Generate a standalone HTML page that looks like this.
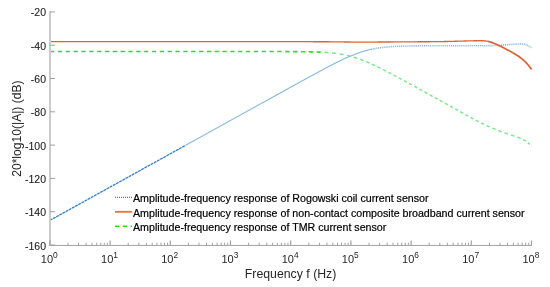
<!DOCTYPE html>
<html><head><meta charset="utf-8"><style>
html,body{margin:0;padding:0;background:#fff;width:550px;height:287px;overflow:hidden}
svg{display:block}
text{stroke-linejoin:round}
</style></head><body>
<svg width="550" height="287" viewBox="0 0 550 287">
<path d="M50.00,51.53L50.05,51.53L50.13,51.53L50.20,51.53L50.28,51.53L50.35,51.53L50.43,51.53L50.50,51.53L50.58,51.53L50.65,51.53L50.73,51.53L50.80,51.53L50.88,51.53L50.95,51.53L51.03,51.53L51.10,51.53L51.18,51.53L51.25,51.53L51.33,51.53L51.40,51.53L51.48,51.53L51.55,51.53L51.63,51.53L51.70,51.53L51.78,51.53L51.85,51.53L51.93,51.53L52.00,51.53L52.08,51.53L52.16,51.53L52.23,51.53L52.31,51.53L52.38,51.53L52.46,51.53L52.53,51.53L52.61,51.53L52.68,51.53L52.76,51.53L52.83,51.53L52.91,51.53L52.98,51.53L53.06,51.53L53.13,51.53L53.21,51.53L53.28,51.53L53.36,51.53L53.43,51.53L53.51,51.53L53.58,51.53L53.66,51.53L53.73,51.53L53.81,51.53L53.88,51.53L53.96,51.53L54.03,51.53L54.11,51.53L54.18,51.53L54.20,51.53M57.84,51.53L57.87,51.53L57.94,51.53L58.02,51.53L58.09,51.53L58.17,51.53L58.24,51.53L58.32,51.53L58.39,51.53L58.47,51.53L58.54,51.53L58.62,51.53L58.69,51.53L58.77,51.53L58.84,51.53L58.92,51.53L59.00,51.53L59.07,51.53L59.15,51.53L59.22,51.53L59.30,51.53L59.37,51.53L59.45,51.53L59.52,51.53L59.60,51.53L59.67,51.53L59.75,51.53L59.82,51.53L59.90,51.53L59.97,51.53L60.05,51.53L60.12,51.53L60.20,51.53L60.27,51.53L60.35,51.53L60.42,51.53L60.50,51.53L60.57,51.53L60.65,51.53L60.72,51.53L60.80,51.53L60.87,51.53L60.95,51.53L61.02,51.53L61.10,51.53L61.18,51.53L61.25,51.53L61.33,51.53L61.40,51.53L61.48,51.53L61.55,51.53L61.63,51.53L61.70,51.53L61.78,51.53L61.85,51.53L61.93,51.53L62.00,51.53L62.04,51.53M65.68,51.53L65.69,51.53L65.76,51.53L65.84,51.53L65.91,51.53L65.99,51.53L66.06,51.53L66.14,51.53L66.21,51.53L66.29,51.53L66.36,51.53L66.44,51.53L66.51,51.53L66.59,51.53L66.66,51.53L66.74,51.53L66.81,51.53L66.89,51.53L66.96,51.53L67.04,51.53L67.11,51.53L67.19,51.53L67.26,51.53L67.34,51.53L67.41,51.53L67.49,51.53L67.56,51.53L67.64,51.53L67.71,51.53L67.79,51.53L67.87,51.53L67.94,51.53L68.02,51.53L68.09,51.53L68.17,51.53L68.24,51.53L68.32,51.53L68.39,51.53L68.47,51.53L68.54,51.53L68.62,51.53L68.69,51.53L68.77,51.53L68.84,51.53L68.92,51.53L68.99,51.53L69.07,51.53L69.14,51.53L69.22,51.53L69.29,51.53L69.37,51.53L69.44,51.53L69.52,51.53L69.59,51.53L69.67,51.53L69.74,51.53L69.82,51.53L69.88,51.53M73.52,51.53L73.58,51.53L73.65,51.53L73.73,51.53L73.80,51.53L73.88,51.53L73.95,51.53L74.03,51.53L74.10,51.53L74.18,51.53L74.25,51.53L74.33,51.53L74.40,51.53L74.48,51.53L74.56,51.53L74.63,51.53L74.71,51.53L74.78,51.53L74.86,51.53L74.93,51.53L75.01,51.53L75.08,51.53L75.16,51.53L75.23,51.53L75.31,51.53L75.38,51.53L75.46,51.53L75.53,51.53L75.61,51.53L75.68,51.53L75.76,51.53L75.83,51.53L75.91,51.53L75.98,51.53L76.06,51.53L76.13,51.53L76.21,51.53L76.28,51.53L76.36,51.53L76.43,51.53L76.51,51.53L76.58,51.53L76.66,51.53L76.73,51.53L76.81,51.53L76.89,51.53L76.96,51.53L77.04,51.53L77.11,51.53L77.19,51.53L77.26,51.53L77.34,51.53L77.41,51.53L77.49,51.53L77.56,51.53L77.64,51.53L77.71,51.53L77.72,51.53M81.36,51.53L81.40,51.53L81.47,51.53L81.55,51.53L81.62,51.53L81.70,51.53L81.77,51.53L81.85,51.53L81.92,51.53L82.00,51.53L82.07,51.53L82.15,51.53L82.22,51.53L82.30,51.53L82.37,51.53L82.45,51.53L82.52,51.53L82.60,51.53L82.67,51.53L82.75,51.53L82.82,51.53L82.90,51.53L82.97,51.53L83.05,51.53L83.12,51.53L83.20,51.53L83.27,51.53L83.35,51.53L83.42,51.53L83.50,51.53L83.58,51.53L83.65,51.53L83.73,51.53L83.80,51.53L83.88,51.53L83.95,51.53L84.03,51.53L84.10,51.53L84.18,51.53L84.25,51.53L84.33,51.53L84.40,51.53L84.48,51.53L84.55,51.53L84.63,51.53L84.70,51.53L84.78,51.53L84.85,51.53L84.93,51.53L85.00,51.53L85.08,51.53L85.15,51.53L85.23,51.53L85.30,51.53L85.38,51.53L85.45,51.53L85.53,51.53L85.56,51.53M89.20,51.53L89.21,51.53L89.29,51.53L89.36,51.53L89.44,51.53L89.51,51.53L89.59,51.53L89.66,51.53L89.74,51.53L89.81,51.53L89.89,51.53L89.96,51.53L90.04,51.53L90.11,51.53L90.19,51.53L90.27,51.53L90.34,51.53L90.42,51.53L90.49,51.53L90.57,51.53L90.64,51.53L90.72,51.53L90.79,51.53L90.87,51.53L90.94,51.53L91.02,51.53L91.09,51.53L91.17,51.53L91.24,51.53L91.32,51.53L91.39,51.53L91.47,51.53L91.54,51.53L91.62,51.53L91.69,51.53L91.77,51.53L91.84,51.53L91.92,51.53L91.99,51.53L92.07,51.53L92.14,51.53L92.22,51.53L92.29,51.53L92.37,51.53L92.44,51.53L92.52,51.53L92.60,51.53L92.67,51.53L92.75,51.53L92.82,51.53L92.90,51.53L92.97,51.53L93.05,51.53L93.12,51.53L93.20,51.53L93.27,51.53L93.35,51.53L93.40,51.53M97.04,51.53L97.11,51.53L97.18,51.53L97.26,51.53L97.33,51.53L97.41,51.53L97.48,51.53L97.56,51.53L97.63,51.53L97.71,51.53L97.78,51.53L97.86,51.53L97.93,51.53L98.01,51.53L98.08,51.53L98.16,51.53L98.23,51.53L98.31,51.53L98.38,51.53L98.46,51.53L98.53,51.53L98.61,51.53L98.68,51.53L98.76,51.53L98.83,51.53L98.91,51.53L98.98,51.53L99.06,51.53L99.13,51.53L99.21,51.53L99.29,51.53L99.36,51.53L99.44,51.53L99.51,51.53L99.59,51.53L99.66,51.53L99.74,51.53L99.81,51.53L99.89,51.53L99.96,51.53L100.04,51.53L100.11,51.53L100.19,51.53L100.26,51.53L100.34,51.53L100.41,51.53L100.49,51.53L100.56,51.53L100.64,51.53L100.71,51.53L100.79,51.53L100.86,51.53L100.94,51.53L101.01,51.53L101.09,51.53L101.16,51.53L101.24,51.53L101.24,51.53M104.88,51.53L104.92,51.53L105.00,51.53L105.07,51.53L105.15,51.53L105.22,51.53L105.30,51.53L105.37,51.53L105.45,51.53L105.52,51.53L105.60,51.53L105.67,51.53L105.75,51.53L105.82,51.53L105.90,51.53L105.98,51.53L106.05,51.53L106.13,51.53L106.20,51.53L106.28,51.53L106.35,51.53L106.43,51.53L106.50,51.53L106.58,51.53L106.65,51.53L106.73,51.53L106.80,51.53L106.88,51.53L106.95,51.53L107.03,51.53L107.10,51.53L107.18,51.53L107.25,51.53L107.33,51.53L107.40,51.53L107.48,51.53L107.55,51.53L107.63,51.53L107.70,51.53L107.78,51.53L107.85,51.53L107.93,51.53L108.00,51.53L108.08,51.53L108.16,51.53L108.23,51.53L108.31,51.53L108.38,51.53L108.46,51.53L108.53,51.53L108.61,51.53L108.68,51.53L108.76,51.53L108.83,51.53L108.91,51.53L108.98,51.53L109.06,51.53L109.08,51.53M112.72,51.53L112.74,51.53L112.82,51.53L112.89,51.53L112.97,51.53L113.04,51.53L113.12,51.53L113.19,51.53L113.27,51.53L113.34,51.53L113.42,51.53L113.49,51.53L113.57,51.53L113.64,51.53L113.72,51.53L113.79,51.53L113.87,51.53L113.94,51.53L114.02,51.53L114.09,51.53L114.17,51.53L114.24,51.53L114.32,51.53L114.39,51.53L114.47,51.53L114.54,51.53L114.62,51.53L114.69,51.53L114.77,51.53L114.84,51.53L114.92,51.53L115.00,51.53L115.07,51.53L115.15,51.53L115.22,51.53L115.30,51.53L115.37,51.53L115.45,51.53L115.52,51.53L115.60,51.53L115.67,51.53L115.75,51.53L115.82,51.53L115.90,51.53L115.97,51.53L116.05,51.53L116.12,51.53L116.20,51.53L116.27,51.53L116.35,51.53L116.42,51.53L116.50,51.53L116.57,51.53L116.65,51.53L116.72,51.53L116.80,51.53L116.87,51.53L116.92,51.53M120.56,51.53L120.63,51.53L120.71,51.53L120.78,51.53L120.86,51.53L120.93,51.53L121.01,51.53L121.08,51.53L121.16,51.53L121.23,51.53L121.31,51.53L121.38,51.53L121.46,51.53L121.53,51.53L121.61,51.53L121.69,51.53L121.76,51.53L121.84,51.53L121.91,51.53L121.99,51.53L122.06,51.53L122.14,51.53L122.21,51.53L122.29,51.53L122.36,51.53L122.44,51.53L122.51,51.53L122.59,51.53L122.66,51.53L122.74,51.53L122.81,51.53L122.89,51.53L122.96,51.53L123.04,51.53L123.11,51.53L123.19,51.53L123.26,51.53L123.34,51.53L123.41,51.53L123.49,51.53L123.56,51.53L123.64,51.53L123.71,51.53L123.79,51.53L123.87,51.53L123.94,51.53L124.02,51.53L124.09,51.53L124.17,51.53L124.24,51.53L124.32,51.53L124.39,51.53L124.47,51.53L124.54,51.53L124.62,51.53L124.69,51.53L124.76,51.53M128.40,51.53L128.45,51.53L128.53,51.53L128.60,51.53L128.68,51.53L128.75,51.53L128.83,51.53L128.90,51.53L128.98,51.53L129.05,51.53L129.13,51.53L129.20,51.53L129.28,51.53L129.35,51.53L129.43,51.53L129.50,51.53L129.58,51.53L129.65,51.53L129.73,51.53L129.80,51.53L129.88,51.53L129.95,51.53L130.03,51.53L130.10,51.53L130.18,51.53L130.25,51.53L130.33,51.53L130.40,51.53L130.48,51.53L130.56,51.53L130.63,51.53L130.71,51.53L130.78,51.53L130.86,51.53L130.93,51.53L131.01,51.53L131.08,51.53L131.16,51.53L131.23,51.53L131.31,51.53L131.38,51.53L131.46,51.53L131.53,51.53L131.61,51.53L131.68,51.53L131.76,51.53L131.83,51.53L131.91,51.53L131.98,51.53L132.06,51.53L132.13,51.53L132.21,51.53L132.28,51.53L132.36,51.53L132.43,51.53L132.51,51.53L132.58,51.53L132.60,51.53M136.24,51.53L136.27,51.53L136.34,51.53L136.42,51.53L136.49,51.53L136.57,51.53L136.64,51.53L136.72,51.53L136.79,51.53L136.87,51.53L136.94,51.53L137.02,51.53L137.09,51.53L137.17,51.53L137.24,51.53L137.32,51.53L137.40,51.53L137.47,51.53L137.55,51.53L137.62,51.53L137.70,51.53L137.77,51.53L137.85,51.53L137.92,51.53L138.00,51.53L138.07,51.53L138.15,51.53L138.22,51.53L138.30,51.53L138.37,51.53L138.45,51.53L138.52,51.53L138.60,51.53L138.67,51.53L138.75,51.53L138.82,51.53L138.90,51.53L138.97,51.53L139.05,51.53L139.12,51.53L139.20,51.53L139.27,51.53L139.35,51.53L139.42,51.53L139.50,51.53L139.58,51.53L139.65,51.53L139.73,51.53L139.80,51.53L139.88,51.53L139.95,51.53L140.03,51.53L140.10,51.53L140.18,51.53L140.25,51.53L140.33,51.53L140.40,51.53L140.44,51.53M144.08,51.53L144.09,51.53L144.16,51.53L144.24,51.53L144.31,51.53L144.39,51.53L144.46,51.53L144.54,51.53L144.61,51.53L144.69,51.53L144.76,51.53L144.84,51.53L144.91,51.53L144.99,51.53L145.06,51.53L145.14,51.53L145.21,51.53L145.29,51.53L145.36,51.53L145.44,51.53L145.51,51.53L145.59,51.53L145.66,51.53L145.74,51.53L145.81,51.53L145.89,51.53L145.96,51.53L146.04,51.53L146.11,51.53L146.19,51.53L146.27,51.53L146.34,51.53L146.42,51.53L146.49,51.53L146.57,51.53L146.64,51.53L146.72,51.53L146.79,51.53L146.87,51.53L146.94,51.53L147.02,51.53L147.09,51.53L147.17,51.53L147.24,51.53L147.32,51.53L147.39,51.53L147.47,51.53L147.54,51.53L147.62,51.53L147.69,51.53L147.77,51.53L147.84,51.53L147.92,51.53L147.99,51.53L148.07,51.53L148.14,51.53L148.22,51.53L148.28,51.53M151.92,51.53L151.98,51.53L152.05,51.53L152.13,51.53L152.20,51.53L152.28,51.53L152.35,51.53L152.43,51.53L152.50,51.53L152.58,51.53L152.65,51.53L152.73,51.53L152.80,51.53L152.88,51.53L152.96,51.53L153.03,51.53L153.11,51.53L153.18,51.53L153.26,51.53L153.33,51.53L153.41,51.53L153.48,51.53L153.56,51.53L153.63,51.53L153.71,51.53L153.78,51.53L153.86,51.53L153.93,51.53L154.01,51.53L154.08,51.53L154.16,51.53L154.23,51.53L154.31,51.53L154.38,51.53L154.46,51.53L154.53,51.53L154.61,51.53L154.68,51.53L154.76,51.53L154.83,51.53L154.91,51.53L154.98,51.53L155.06,51.53L155.13,51.53L155.21,51.53L155.29,51.53L155.36,51.53L155.44,51.53L155.51,51.53L155.59,51.53L155.66,51.53L155.74,51.53L155.81,51.53L155.89,51.53L155.96,51.53L156.04,51.53L156.11,51.53L156.12,51.53M159.76,51.53L159.80,51.53L159.87,51.53L159.95,51.53L160.02,51.53L160.10,51.53L160.17,51.53L160.25,51.53L160.32,51.53L160.40,51.53L160.47,51.53L160.55,51.53L160.62,51.53L160.70,51.53L160.77,51.53L160.85,51.53L160.92,51.53L161.00,51.53L161.07,51.53L161.15,51.53L161.22,51.53L161.30,51.53L161.37,51.53L161.45,51.53L161.52,51.53L161.60,51.53L161.67,51.53L161.75,51.53L161.82,51.53L161.90,51.53L161.98,51.53L162.05,51.53L162.13,51.53L162.20,51.53L162.28,51.53L162.35,51.53L162.43,51.53L162.50,51.53L162.58,51.53L162.65,51.53L162.73,51.53L162.80,51.53L162.88,51.53L162.95,51.53L163.03,51.53L163.10,51.53L163.18,51.53L163.25,51.53L163.33,51.53L163.40,51.53L163.48,51.53L163.55,51.53L163.63,51.53L163.70,51.53L163.78,51.53L163.85,51.53L163.93,51.53L163.96,51.53M167.60,51.53L167.61,51.53L167.69,51.53L167.76,51.53L167.84,51.53L167.91,51.53L167.99,51.53L168.06,51.53L168.14,51.53L168.21,51.53L168.29,51.53L168.36,51.53L168.44,51.53L168.51,51.53L168.59,51.53L168.67,51.53L168.74,51.53L168.82,51.53L168.89,51.53L168.97,51.53L169.04,51.53L169.12,51.53L169.19,51.53L169.27,51.53L169.34,51.53L169.42,51.53L169.49,51.53L169.57,51.53L169.64,51.53L169.72,51.53L169.79,51.53L169.87,51.53L169.94,51.53L170.02,51.53L170.09,51.53L170.17,51.53L170.24,51.53L170.32,51.53L170.39,51.53L170.47,51.53L170.54,51.53L170.62,51.53L170.69,51.53L170.77,51.53L170.84,51.53L170.92,51.53L171.00,51.53L171.07,51.53L171.15,51.53L171.22,51.53L171.30,51.53L171.37,51.53L171.45,51.53L171.52,51.53L171.60,51.53L171.67,51.53L171.75,51.53L171.80,51.53M175.44,51.53L175.51,51.53L175.58,51.53L175.66,51.53L175.73,51.53L175.81,51.53L175.88,51.53L175.96,51.53L176.03,51.53L176.11,51.53L176.18,51.53L176.26,51.53L176.33,51.53L176.41,51.53L176.48,51.53L176.56,51.53L176.63,51.53L176.71,51.53L176.78,51.53L176.86,51.53L176.93,51.53L177.01,51.53L177.08,51.53L177.16,51.53L177.23,51.53L177.31,51.53L177.38,51.53L177.46,51.53L177.53,51.53L177.61,51.53L177.69,51.53L177.76,51.53L177.84,51.53L177.91,51.53L177.99,51.53L178.06,51.53L178.14,51.53L178.21,51.53L178.29,51.53L178.36,51.53L178.44,51.53L178.51,51.53L178.59,51.53L178.66,51.53L178.74,51.53L178.81,51.53L178.89,51.53L178.96,51.53L179.04,51.53L179.11,51.53L179.19,51.53L179.26,51.53L179.34,51.53L179.41,51.53L179.49,51.53L179.56,51.53L179.64,51.53L179.64,51.53M183.28,51.53L183.32,51.53L183.40,51.53L183.47,51.53L183.55,51.53L183.62,51.53L183.70,51.53L183.77,51.53L183.85,51.53L183.92,51.53L184.00,51.53L184.07,51.53L184.15,51.53L184.22,51.53L184.30,51.53L184.38,51.53L184.45,51.53L184.53,51.53L184.60,51.53L184.68,51.53L184.75,51.53L184.83,51.53L184.90,51.53L184.98,51.53L185.05,51.53L185.13,51.53L185.20,51.53L185.28,51.53L185.35,51.53L185.43,51.53L185.50,51.53L185.58,51.53L185.65,51.53L185.73,51.53L185.80,51.53L185.88,51.53L185.95,51.53L186.03,51.53L186.10,51.53L186.18,51.53L186.25,51.53L186.33,51.53L186.40,51.53L186.48,51.53L186.56,51.53L186.63,51.53L186.71,51.53L186.78,51.53L186.86,51.53L186.93,51.53L187.01,51.53L187.08,51.53L187.16,51.53L187.23,51.53L187.31,51.53L187.38,51.53L187.46,51.53L187.48,51.53M191.12,51.53L191.14,51.53L191.22,51.53L191.29,51.53L191.37,51.53L191.44,51.53L191.52,51.53L191.59,51.53L191.67,51.53L191.74,51.53L191.82,51.53L191.89,51.53L191.97,51.53L192.04,51.53L192.12,51.53L192.19,51.53L192.27,51.53L192.34,51.53L192.42,51.53L192.49,51.53L192.57,51.53L192.64,51.53L192.72,51.53L192.79,51.53L192.87,51.53L192.94,51.53L193.02,51.53L193.09,51.53L193.17,51.53L193.24,51.53L193.32,51.53L193.40,51.53L193.47,51.53L193.55,51.53L193.62,51.53L193.70,51.53L193.77,51.53L193.85,51.53L193.92,51.53L194.00,51.53L194.07,51.53L194.15,51.53L194.22,51.53L194.30,51.53L194.37,51.53L194.45,51.53L194.52,51.53L194.60,51.53L194.67,51.53L194.75,51.53L194.82,51.53L194.90,51.53L194.97,51.53L195.05,51.53L195.12,51.53L195.20,51.53L195.27,51.53L195.32,51.53M198.96,51.53L199.03,51.53L199.11,51.53L199.18,51.53L199.26,51.53L199.33,51.53L199.41,51.53L199.48,51.53L199.56,51.53L199.63,51.53L199.71,51.53L199.78,51.53L199.86,51.53L199.93,51.53L200.01,51.53L200.09,51.53L200.16,51.53L200.24,51.53L200.31,51.53L200.39,51.53L200.46,51.53L200.54,51.53L200.61,51.53L200.69,51.53L200.76,51.53L200.84,51.53L200.91,51.53L200.99,51.53L201.06,51.53L201.14,51.53L201.21,51.53L201.29,51.53L201.36,51.53L201.44,51.53L201.51,51.53L201.59,51.53L201.66,51.53L201.74,51.53L201.81,51.53L201.89,51.53L201.96,51.53L202.04,51.53L202.11,51.53L202.19,51.53L202.27,51.53L202.34,51.53L202.42,51.53L202.49,51.53L202.57,51.53L202.64,51.53L202.72,51.53L202.79,51.53L202.87,51.53L202.94,51.53L203.02,51.53L203.09,51.53L203.16,51.53M206.80,51.53L206.85,51.53L206.93,51.53L207.00,51.53L207.08,51.53L207.15,51.53L207.23,51.53L207.30,51.53L207.38,51.53L207.45,51.53L207.53,51.53L207.60,51.53L207.68,51.53L207.75,51.53L207.83,51.53L207.90,51.53L207.98,51.53L208.05,51.53L208.13,51.53L208.20,51.53L208.28,51.53L208.35,51.53L208.43,51.53L208.50,51.53L208.58,51.53L208.65,51.53L208.73,51.53L208.80,51.53L208.88,51.53L208.96,51.53L209.03,51.53L209.11,51.53L209.18,51.53L209.26,51.53L209.33,51.53L209.41,51.53L209.48,51.53L209.56,51.53L209.63,51.53L209.71,51.53L209.78,51.53L209.86,51.53L209.93,51.53L210.01,51.53L210.08,51.53L210.16,51.53L210.23,51.53L210.31,51.53L210.38,51.53L210.46,51.53L210.53,51.53L210.61,51.53L210.68,51.53L210.76,51.53L210.83,51.53L210.91,51.53L210.98,51.53L211.00,51.53M214.64,51.53L214.67,51.53L214.74,51.53L214.82,51.53L214.89,51.53L214.97,51.53L215.04,51.53L215.12,51.53L215.19,51.53L215.27,51.53L215.34,51.53L215.42,51.53L215.49,51.53L215.57,51.53L215.64,51.53L215.72,51.53L215.80,51.53L215.87,51.53L215.95,51.53L216.02,51.53L216.10,51.53L216.17,51.53L216.25,51.53L216.32,51.53L216.40,51.53L216.47,51.53L216.55,51.53L216.62,51.53L216.70,51.53L216.77,51.53L216.85,51.53L216.92,51.53L217.00,51.53L217.07,51.53L217.15,51.53L217.22,51.53L217.30,51.53L217.37,51.53L217.45,51.53L217.52,51.53L217.60,51.53L217.67,51.53L217.75,51.53L217.82,51.53L217.90,51.53L217.98,51.53L218.05,51.53L218.13,51.53L218.20,51.53L218.28,51.53L218.35,51.53L218.43,51.53L218.50,51.53L218.58,51.53L218.65,51.53L218.73,51.53L218.80,51.53L218.84,51.53M222.48,51.53L222.49,51.53L222.56,51.53L222.64,51.53L222.71,51.53L222.79,51.53L222.86,51.53L222.94,51.53L223.01,51.53L223.09,51.53L223.16,51.53L223.24,51.53L223.31,51.53L223.39,51.53L223.46,51.53L223.54,51.53L223.61,51.53L223.69,51.53L223.76,51.53L223.84,51.53L223.91,51.53L223.99,51.53L224.06,51.53L224.14,51.53L224.21,51.53L224.29,51.53L224.36,51.53L224.44,51.53L224.51,51.53L224.59,51.53L224.67,51.53L224.74,51.53L224.82,51.53L224.89,51.53L224.97,51.53L225.04,51.53L225.12,51.53L225.19,51.53L225.27,51.53L225.34,51.53L225.42,51.53L225.49,51.53L225.57,51.53L225.64,51.53L225.72,51.53L225.79,51.53L225.87,51.53L225.94,51.53L226.02,51.53L226.09,51.53L226.17,51.53L226.24,51.53L226.32,51.53L226.39,51.53L226.47,51.53L226.54,51.53L226.62,51.53L226.68,51.53M230.32,51.53L230.38,51.53L230.45,51.53L230.53,51.53L230.60,51.53L230.68,51.53L230.75,51.53L230.83,51.53L230.90,51.53L230.98,51.53L231.05,51.53L231.13,51.53L231.20,51.53L231.28,51.53L231.36,51.53L231.43,51.53L231.51,51.53L231.58,51.53L231.66,51.53L231.73,51.53L231.81,51.53L231.88,51.53L231.96,51.53L232.03,51.53L232.11,51.53L232.18,51.53L232.26,51.53L232.33,51.53L232.41,51.53L232.48,51.53L232.56,51.53L232.63,51.53L232.71,51.53L232.78,51.53L232.86,51.53L232.93,51.53L233.01,51.53L233.08,51.53L233.16,51.53L233.23,51.53L233.31,51.53L233.38,51.53L233.46,51.53L233.53,51.53L233.61,51.53L233.69,51.53L233.76,51.53L233.84,51.53L233.91,51.53L233.99,51.53L234.06,51.53L234.14,51.53L234.21,51.53L234.29,51.53L234.36,51.53L234.44,51.53L234.51,51.53L234.52,51.53M238.16,51.53L238.20,51.53L238.27,51.53L238.35,51.53L238.42,51.53L238.50,51.53L238.57,51.53L238.65,51.53L238.72,51.53L238.80,51.53L238.87,51.53L238.95,51.53L239.02,51.53L239.10,51.53L239.17,51.53L239.25,51.53L239.32,51.53L239.40,51.53L239.47,51.53L239.55,51.53L239.62,51.53L239.70,51.53L239.77,51.53L239.85,51.53L239.92,51.53L240.00,51.53L240.07,51.53L240.15,51.53L240.22,51.53L240.30,51.53L240.38,51.53L240.45,51.53L240.53,51.53L240.60,51.53L240.68,51.53L240.75,51.53L240.83,51.53L240.90,51.53L240.98,51.53L241.05,51.53L241.13,51.53L241.20,51.53L241.28,51.53L241.35,51.53L241.43,51.53L241.50,51.53L241.58,51.53L241.65,51.53L241.73,51.53L241.80,51.53L241.88,51.53L241.95,51.53L242.03,51.53L242.10,51.53L242.18,51.53L242.25,51.53L242.33,51.53L242.36,51.53M246.00,51.53L246.01,51.53L246.09,51.53L246.16,51.53L246.24,51.53L246.31,51.53L246.39,51.53L246.46,51.53L246.54,51.53L246.61,51.53L246.69,51.53L246.76,51.53L246.84,51.53L246.91,51.53L246.99,51.53L247.07,51.53L247.14,51.53L247.22,51.53L247.29,51.53L247.37,51.53L247.44,51.53L247.52,51.53L247.59,51.53L247.67,51.53L247.74,51.53L247.82,51.53L247.89,51.53L247.97,51.53L248.04,51.53L248.12,51.53L248.19,51.53L248.27,51.53L248.34,51.53L248.42,51.53L248.49,51.53L248.57,51.53L248.64,51.53L248.72,51.53L248.79,51.53L248.87,51.53L248.94,51.53L249.02,51.53L249.09,51.53L249.17,51.53L249.24,51.53L249.32,51.53L249.40,51.53L249.47,51.53L249.55,51.53L249.62,51.53L249.70,51.53L249.77,51.53L249.85,51.53L249.92,51.53L250.00,51.53L250.07,51.53L250.15,51.53L250.20,51.53M253.84,51.53L253.91,51.53L253.98,51.53L254.06,51.53L254.13,51.53L254.21,51.53L254.28,51.53L254.36,51.53L254.43,51.53L254.51,51.53L254.58,51.53L254.66,51.53L254.73,51.53L254.81,51.53L254.88,51.53L254.96,51.53L255.03,51.53L255.11,51.53L255.18,51.53L255.26,51.53L255.33,51.53L255.41,51.53L255.48,51.53L255.56,51.53L255.63,51.53L255.71,51.53L255.78,51.53L255.86,51.53L255.93,51.53L256.01,51.53L256.09,51.53L256.16,51.53L256.24,51.53L256.31,51.53L256.39,51.53L256.46,51.53L256.54,51.53L256.61,51.53L256.69,51.53L256.76,51.53L256.84,51.53L256.91,51.53L256.99,51.53L257.06,51.53L257.14,51.53L257.21,51.53L257.29,51.53L257.36,51.53L257.44,51.53L257.51,51.53L257.59,51.53L257.66,51.53L257.74,51.53L257.81,51.53L257.89,51.53L257.96,51.53L258.04,51.53L258.04,51.53M261.68,51.53L261.72,51.53L261.80,51.53L261.87,51.53L261.95,51.53L262.02,51.53L262.10,51.53L262.17,51.53L262.25,51.53L262.32,51.53L262.40,51.53L262.47,51.53L262.55,51.54L262.62,51.54L262.70,51.54L262.78,51.54L262.85,51.54L262.93,51.54L263.00,51.54L263.08,51.54L263.15,51.54L263.23,51.54L263.30,51.54L263.38,51.54L263.45,51.54L263.53,51.54L263.60,51.54L263.68,51.54L263.75,51.54L263.83,51.54L263.90,51.54L263.98,51.54L264.05,51.54L264.13,51.54L264.20,51.54L264.28,51.54L264.35,51.54L264.43,51.54L264.50,51.54L264.58,51.54L264.65,51.54L264.73,51.54L264.80,51.54L264.88,51.54L264.96,51.54L265.03,51.54L265.11,51.54L265.18,51.54L265.26,51.54L265.33,51.54L265.41,51.54L265.48,51.54L265.56,51.54L265.63,51.54L265.71,51.54L265.78,51.54L265.86,51.54L265.88,51.54M269.52,51.54L269.54,51.54L269.62,51.54L269.69,51.54L269.77,51.54L269.84,51.54L269.92,51.54L269.99,51.54L270.07,51.54L270.14,51.54L270.22,51.54L270.29,51.54L270.37,51.54L270.44,51.54L270.52,51.54L270.59,51.54L270.67,51.54L270.74,51.54L270.82,51.54L270.89,51.54L270.97,51.54L271.04,51.54L271.12,51.54L271.19,51.54L271.27,51.54L271.34,51.54L271.42,51.54L271.49,51.54L271.57,51.54L271.64,51.54L271.72,51.54L271.80,51.54L271.87,51.54L271.95,51.54L272.02,51.54L272.10,51.54L272.17,51.54L272.25,51.54L272.32,51.54L272.40,51.54L272.47,51.54L272.55,51.54L272.62,51.54L272.70,51.54L272.77,51.54L272.85,51.54L272.92,51.54L273.00,51.54L273.07,51.54L273.15,51.55L273.22,51.55L273.30,51.55L273.37,51.55L273.45,51.55L273.52,51.55L273.60,51.55L273.67,51.55L273.72,51.55M277.36,51.55L277.43,51.55L277.51,51.55L277.58,51.55L277.66,51.55L277.73,51.55L277.81,51.55L277.88,51.55L277.96,51.55L278.03,51.55L278.11,51.55L278.18,51.55L278.26,51.55L278.33,51.55L278.41,51.55L278.49,51.55L278.56,51.55L278.64,51.55L278.71,51.55L278.79,51.55L278.86,51.55L278.94,51.56L279.01,51.56L279.09,51.56L279.16,51.56L279.24,51.56L279.31,51.56L279.39,51.56L279.46,51.56L279.54,51.56L279.61,51.56L279.69,51.56L279.76,51.56L279.84,51.56L279.91,51.56L279.99,51.56L280.06,51.56L280.14,51.56L280.21,51.56L280.29,51.56L280.36,51.56L280.44,51.56L280.51,51.56L280.59,51.56L280.67,51.56L280.74,51.56L280.82,51.56L280.89,51.56L280.97,51.56L281.04,51.56L281.12,51.56L281.19,51.56L281.27,51.56L281.34,51.56L281.42,51.56L281.49,51.56L281.56,51.56M285.20,51.57L285.25,51.57L285.33,51.57L285.40,51.57L285.48,51.57L285.55,51.57L285.63,51.57L285.70,51.57L285.78,51.57L285.85,51.57L285.93,51.57L286.00,51.58L286.08,51.58L286.15,51.58L286.23,51.58L286.30,51.58L286.38,51.58L286.45,51.58L286.53,51.58L286.60,51.58L286.68,51.58L286.75,51.58L286.83,51.58L286.90,51.58L286.98,51.58L287.05,51.58L287.13,51.58L287.20,51.58L287.28,51.58L287.36,51.58L287.43,51.58L287.51,51.58L287.58,51.58L287.66,51.58L287.73,51.58L287.81,51.58L287.88,51.58L287.96,51.58L288.03,51.58L288.11,51.58L288.18,51.58L288.26,51.58L288.33,51.58L288.41,51.58L288.48,51.59L288.56,51.59L288.63,51.59L288.71,51.59L288.78,51.59L288.86,51.59L288.93,51.59L289.01,51.59L289.08,51.59L289.16,51.59L289.23,51.59L289.31,51.59L289.38,51.59L289.40,51.59M293.04,51.61L293.07,51.61L293.14,51.61L293.22,51.61L293.29,51.61L293.37,51.61L293.44,51.61L293.52,51.61L293.59,51.61L293.67,51.61L293.74,51.61L293.82,51.61L293.89,51.61L293.97,51.62L294.04,51.62L294.12,51.62L294.20,51.62L294.27,51.62L294.35,51.62L294.42,51.62L294.50,51.62L294.57,51.62L294.65,51.62L294.72,51.62L294.80,51.62L294.87,51.62L294.95,51.62L295.02,51.62L295.10,51.62L295.17,51.62L295.25,51.62L295.32,51.62L295.40,51.63L295.47,51.63L295.55,51.63L295.62,51.63L295.70,51.63L295.77,51.63L295.85,51.63L295.92,51.63L296.00,51.63L296.07,51.63L296.15,51.63L296.22,51.63L296.30,51.63L296.38,51.63L296.45,51.63L296.53,51.63L296.60,51.63L296.68,51.64L296.75,51.64L296.83,51.64L296.90,51.64L296.98,51.64L297.05,51.64L297.13,51.64L297.20,51.64L297.24,51.64M300.88,51.68L300.89,51.68L300.96,51.68L301.04,51.68L301.11,51.68L301.19,51.68L301.26,51.68L301.34,51.68L301.41,51.68L301.49,51.68L301.56,51.68L301.64,51.68L301.71,51.69L301.79,51.69L301.86,51.69L301.94,51.69L302.01,51.69L302.09,51.69L302.16,51.69L302.24,51.69L302.31,51.69L302.39,51.69L302.46,51.69L302.54,51.70L302.61,51.70L302.69,51.70L302.76,51.70L302.84,51.70L302.91,51.70L302.99,51.70L303.07,51.70L303.14,51.70L303.22,51.70L303.29,51.71L303.37,51.71L303.44,51.71L303.52,51.71L303.59,51.71L303.67,51.71L303.74,51.71L303.82,51.71L303.89,51.71L303.97,51.72L304.04,51.72L304.12,51.72L304.19,51.72L304.27,51.72L304.34,51.72L304.42,51.72L304.49,51.72L304.57,51.72L304.64,51.72L304.72,51.73L304.79,51.73L304.87,51.73L304.94,51.73L305.02,51.73L305.08,51.73M308.71,51.80L308.78,51.80L308.85,51.80L308.93,51.80L309.00,51.80L309.08,51.80L309.15,51.80L309.23,51.81L309.30,51.81L309.38,51.81L309.45,51.81L309.53,51.81L309.60,51.81L309.68,51.82L309.76,51.82L309.83,51.82L309.91,51.82L309.98,51.82L310.06,51.82L310.13,51.83L310.21,51.83L310.28,51.83L310.36,51.83L310.43,51.83L310.51,51.83L310.58,51.84L310.66,51.84L310.73,51.84L310.81,51.84L310.88,51.84L310.96,51.85L311.03,51.85L311.11,51.85L311.18,51.85L311.26,51.85L311.33,51.85L311.41,51.86L311.48,51.86L311.56,51.86L311.63,51.86L311.71,51.86L311.78,51.87L311.86,51.87L311.93,51.87L312.01,51.87L312.09,51.87L312.16,51.88L312.24,51.88L312.31,51.88L312.39,51.88L312.46,51.88L312.54,51.89L312.61,51.89L312.69,51.89L312.76,51.89L312.84,51.89L312.91,51.90M316.54,52.01L316.60,52.01L316.67,52.01L316.75,52.02L316.82,52.02L316.90,52.02L316.97,52.02L317.05,52.03L317.12,52.03L317.20,52.03L317.27,52.04L317.35,52.04L317.42,52.04L317.50,52.04L317.57,52.05L317.65,52.05L317.72,52.05L317.80,52.06L317.87,52.06L317.95,52.06L318.02,52.07L318.10,52.07L318.17,52.07L318.25,52.07L318.32,52.08L318.40,52.08L318.47,52.08L318.55,52.09L318.62,52.09L318.70,52.09L318.78,52.10L318.85,52.10L318.93,52.10L319.00,52.11L319.08,52.11L319.15,52.11L319.23,52.11L319.30,52.12L319.38,52.12L319.45,52.12L319.53,52.13L319.60,52.13L319.68,52.13L319.75,52.14L319.83,52.14L319.90,52.14L319.98,52.15L320.05,52.15L320.13,52.15L320.20,52.16L320.28,52.16L320.35,52.17L320.43,52.17L320.50,52.17L320.58,52.18L320.65,52.18L320.72,52.18" fill="none" stroke="#11f011" stroke-width="1.6"/>
<path d="M324.34,52.38L324.41,52.38L324.49,52.39L324.56,52.39L324.64,52.40L324.71,52.40L324.79,52.41L324.86,52.41L324.94,52.42L325.01,52.42L325.09,52.43L325.16,52.43L325.24,52.44L325.31,52.44L325.39,52.45L325.47,52.45L325.54,52.46L325.62,52.46L325.69,52.47L325.77,52.47L325.84,52.48L325.92,52.48L325.99,52.49L326.07,52.49L326.14,52.50L326.22,52.50L326.29,52.51L326.37,52.51L326.44,52.52L326.52,52.52L326.59,52.53L326.67,52.54L326.74,52.54L326.82,52.55L326.89,52.55L326.97,52.56L327.04,52.56L327.12,52.57L327.19,52.57L327.27,52.58L327.34,52.59L327.42,52.59L327.49,52.60L327.57,52.60L327.64,52.61L327.72,52.61L327.80,52.62L327.87,52.63L327.95,52.63L328.02,52.64L328.10,52.64L328.17,52.65L328.25,52.66L328.32,52.66L328.40,52.67L328.47,52.67L328.49,52.68M332.07,53.00L332.08,53.00L332.16,53.01L332.23,53.02L332.31,53.03L332.38,53.03L332.46,53.04L332.53,53.05L332.61,53.06L332.68,53.07L332.76,53.07L332.83,53.08L332.91,53.09L332.98,53.10L333.06,53.11L333.13,53.11L333.21,53.12L333.28,53.13L333.36,53.14L333.43,53.15L333.51,53.15L333.58,53.16L333.66,53.17L333.73,53.18L333.81,53.19L333.88,53.20L333.96,53.21L334.03,53.21L334.11,53.22L334.18,53.23L334.26,53.24L334.33,53.25L334.41,53.26L334.49,53.27L334.56,53.28L334.64,53.28L334.71,53.29L334.79,53.30L334.86,53.31L334.94,53.32L335.01,53.33L335.09,53.34L335.16,53.35L335.24,53.36L335.31,53.37L335.39,53.38L335.46,53.39L335.54,53.40L335.61,53.41L335.69,53.41L335.76,53.42L335.84,53.43L335.91,53.44L335.99,53.45L336.06,53.46L336.14,53.47L336.15,53.47M339.63,53.98L339.67,53.98L339.75,54.00L339.82,54.01L339.90,54.02L339.97,54.03L340.05,54.04L340.12,54.06L340.20,54.07L340.27,54.08L340.35,54.09L340.42,54.11L340.50,54.12L340.57,54.13L340.65,54.14L340.72,54.16L340.80,54.17L340.87,54.18L340.95,54.19L341.02,54.21L341.10,54.22L341.18,54.23L341.25,54.25L341.33,54.26L341.40,54.27L341.48,54.29L341.55,54.30L341.63,54.31L341.70,54.33L341.78,54.34L341.85,54.35L341.93,54.37L342.00,54.38L342.08,54.39L342.15,54.41L342.23,54.42L342.30,54.43L342.38,54.45L342.45,54.46L342.53,54.48L342.60,54.49L342.68,54.50L342.75,54.52L342.83,54.53L342.90,54.55L342.98,54.56L343.05,54.57L343.13,54.59L343.20,54.60L343.28,54.62L343.36,54.63L343.43,54.65L343.51,54.66L343.57,54.67M346.90,55.38L346.96,55.39L347.04,55.41L347.11,55.43L347.19,55.44L347.26,55.46L347.34,55.48L347.41,55.50L347.49,55.51L347.56,55.53L347.64,55.55L347.71,55.57L347.79,55.59L347.87,55.60L347.94,55.62L348.02,55.64L348.09,55.66L348.17,55.68L348.24,55.69L348.32,55.71L348.39,55.73L348.47,55.75L348.54,55.77L348.62,55.79L348.69,55.80L348.77,55.82L348.84,55.84L348.92,55.86L348.99,55.88L349.07,55.90L349.14,55.92L349.22,55.94L349.29,55.95L349.37,55.97L349.44,55.99L349.52,56.01L349.59,56.03L349.67,56.05L349.74,56.07L349.82,56.09L349.89,56.11L349.97,56.13L350.04,56.15L350.12,56.17L350.20,56.19L350.27,56.21L350.35,56.23L350.42,56.25L350.50,56.27L350.57,56.29L350.62,56.30M353.75,57.19L353.80,57.20L353.88,57.23L353.95,57.25L354.03,57.27L354.10,57.29L354.18,57.32L354.25,57.34L354.33,57.36L354.40,57.39L354.48,57.41L354.56,57.43L354.63,57.46L354.71,57.48L354.78,57.50L354.86,57.53L354.93,57.55L355.01,57.57L355.08,57.60L355.16,57.62L355.23,57.64L355.31,57.67L355.38,57.69L355.46,57.72L355.53,57.74L355.61,57.76L355.68,57.79L355.76,57.81L355.83,57.84L355.91,57.86L355.98,57.88L356.06,57.91L356.13,57.93L356.21,57.96L356.28,57.98L356.36,58.01L356.43,58.03L356.51,58.06L356.58,58.08L356.66,58.11L356.73,58.13L356.81,58.16L356.89,58.18L356.96,58.21L357.04,58.23L357.11,58.26L357.19,58.28L357.24,58.30M360.17,59.33L360.19,59.34L360.27,59.36L360.34,59.39L360.42,59.42L360.49,59.45L360.57,59.47L360.64,59.50L360.72,59.53L360.79,59.56L360.87,59.58L360.94,59.61L361.02,59.64L361.09,59.67L361.17,59.70L361.24,59.72L361.32,59.75L361.40,59.78L361.47,59.81L361.55,59.84L361.62,59.87L361.70,59.89L361.77,59.92L361.85,59.95L361.92,59.98L362.00,60.01L362.07,60.04L362.15,60.07L362.22,60.10L362.30,60.12L362.37,60.15L362.45,60.18L362.52,60.21L362.60,60.24L362.67,60.27L362.75,60.30L362.82,60.33L362.90,60.36L362.97,60.39L363.05,60.42L363.12,60.45L363.20,60.48L363.27,60.51L363.35,60.53L363.42,60.56L363.45,60.57M366.22,61.70L366.28,61.73L366.36,61.76L366.43,61.79L366.51,61.82L366.58,61.85L366.66,61.88L366.73,61.92L366.81,61.95L366.88,61.98L366.96,62.01L367.03,62.04L367.11,62.07L367.18,62.11L367.26,62.14L367.33,62.17L367.41,62.20L367.48,62.23L367.56,62.27L367.63,62.30L367.71,62.33L367.78,62.36L367.86,62.40L367.93,62.43L368.01,62.46L368.09,62.49L368.16,62.52L368.24,62.56L368.31,62.59L368.39,62.62L368.46,62.66L368.54,62.69L368.61,62.72L368.69,62.75L368.76,62.79L368.84,62.82L368.91,62.85L368.99,62.88L369.06,62.92L369.14,62.95L369.21,62.98L369.29,63.02L369.34,63.04M371.99,64.23L371.99,64.23L372.07,64.27L372.14,64.30L372.22,64.34L372.29,64.37L372.37,64.40L372.44,64.44L372.52,64.47L372.60,64.51L372.67,64.54L372.75,64.58L372.82,64.61L372.90,64.65L372.97,64.68L373.05,64.72L373.12,64.75L373.20,64.79L373.27,64.82L373.35,64.86L373.42,64.89L373.50,64.93L373.57,64.96L373.65,65.00L373.72,65.03L373.80,65.07L373.87,65.10L373.95,65.14L374.02,65.17L374.10,65.21L374.17,65.24L374.25,65.28L374.32,65.31L374.40,65.35L374.47,65.39L374.55,65.42L374.62,65.46L374.70,65.49L374.78,65.53L374.85,65.56L374.93,65.60L374.99,65.63M377.55,66.86L377.56,66.86L377.63,66.90L377.71,66.94L377.78,66.97L377.86,67.01L377.93,67.05L378.01,67.08L378.08,67.12L378.16,67.16L378.23,67.19L378.31,67.23L378.38,67.27L378.46,67.30L378.53,67.34L378.61,67.38L378.68,67.41L378.76,67.45L378.83,67.49L378.91,67.53L378.98,67.56L379.06,67.60L379.13,67.64L379.21,67.67L379.29,67.71L379.36,67.75L379.44,67.79L379.51,67.82L379.59,67.86L379.66,67.90L379.74,67.93L379.81,67.97L379.89,68.01L379.96,68.05L380.04,68.08L380.11,68.12L380.19,68.16L380.26,68.20L380.34,68.23L380.41,68.27L380.47,68.30M382.97,69.56L382.97,69.56L383.04,69.59L383.12,69.63L383.19,69.67L383.27,69.71L383.34,69.75L383.42,69.79L383.49,69.82L383.57,69.86L383.64,69.90L383.72,69.94L383.80,69.98L383.87,70.02L383.95,70.05L384.02,70.09L384.10,70.13L384.17,70.17L384.25,70.21L384.32,70.25L384.40,70.28L384.47,70.32L384.55,70.36L384.62,70.40L384.70,70.44L384.77,70.48L384.85,70.52L384.92,70.55L385.00,70.59L385.07,70.63L385.15,70.67L385.22,70.71L385.30,70.75L385.37,70.79L385.45,70.82L385.52,70.86L385.60,70.90L385.67,70.94L385.75,70.98L385.82,71.02L385.83,71.02M388.29,72.30L388.31,72.31L388.38,72.34L388.46,72.38L388.53,72.42L388.61,72.46L388.68,72.50L388.76,72.54L388.83,72.58L388.91,72.62L388.98,72.66L389.06,72.70L389.13,72.74L389.21,72.78L389.28,72.82L389.36,72.86L389.43,72.90L389.51,72.93L389.58,72.97L389.66,73.01L389.73,73.05L389.81,73.09L389.88,73.13L389.96,73.17L390.03,73.21L390.11,73.25L390.18,73.29L390.26,73.33L390.33,73.37L390.41,73.41L390.49,73.45L390.56,73.49L390.64,73.53L390.71,73.57L390.79,73.61L390.86,73.65L390.94,73.69L391.01,73.73L391.09,73.77L391.11,73.78M393.55,75.07L393.57,75.08L393.64,75.12L393.72,75.16L393.79,75.20L393.87,75.24L393.94,75.28L394.02,75.32L394.09,75.36L394.17,75.40L394.24,75.44L394.32,75.48L394.39,75.52L394.47,75.56L394.54,75.60L394.62,75.64L394.69,75.68L394.77,75.72L394.84,75.76L394.92,75.80L395.00,75.84L395.07,75.88L395.15,75.92L395.22,75.96L395.30,76.00L395.37,76.04L395.45,76.08L395.52,76.12L395.60,76.16L395.67,76.20L395.75,76.24L395.82,76.28L395.90,76.32L395.97,76.36L396.05,76.40L396.12,76.44L396.20,76.48L396.27,76.52L396.34,76.56M398.76,77.86L398.83,77.90L398.90,77.94L398.98,77.98L399.05,78.02L399.13,78.06L399.20,78.10L399.28,78.14L399.36,78.18L399.43,78.22L399.51,78.26L399.58,78.30L399.66,78.34L399.73,78.38L399.81,78.42L399.88,78.46L399.96,78.51L400.03,78.55L400.11,78.59L400.18,78.63L400.26,78.67L400.33,78.71L400.41,78.75L400.48,78.79L400.56,78.83L400.63,78.87L400.71,78.91L400.78,78.95L400.86,78.99L400.93,79.03L401.01,79.07L401.08,79.11L401.16,79.16L401.23,79.20L401.31,79.24L401.38,79.28L401.46,79.32L401.53,79.36M403.94,80.66L403.94,80.66L404.02,80.70L404.09,80.75L404.17,80.79L404.24,80.83L404.32,80.87L404.39,80.91L404.47,80.95L404.54,80.99L404.62,81.03L404.69,81.07L404.77,81.11L404.84,81.15L404.92,81.19L404.99,81.24L405.07,81.28L405.14,81.32L405.22,81.36L405.29,81.40L405.37,81.44L405.44,81.48L405.52,81.52L405.59,81.56L405.67,81.60L405.74,81.64L405.82,81.69L405.89,81.73L405.97,81.77L406.04,81.81L406.12,81.85L406.20,81.89L406.27,81.93L406.35,81.97L406.42,82.01L406.50,82.05L406.57,82.10L406.65,82.14L406.70,82.17M409.09,83.47L409.13,83.49L409.20,83.53L409.28,83.57L409.35,83.61L409.43,83.65L409.50,83.70L409.58,83.74L409.65,83.78L409.73,83.82L409.80,83.86L409.88,83.90L409.95,83.94L410.03,83.98L410.10,84.02L410.18,84.07L410.25,84.11L410.33,84.15L410.40,84.19L410.48,84.23L410.56,84.27L410.63,84.31L410.71,84.35L410.78,84.39L410.86,84.44L410.93,84.48L411.01,84.52L411.08,84.56L411.16,84.60L411.23,84.64L411.31,84.68L411.38,84.72L411.46,84.76L411.53,84.81L411.61,84.85L411.68,84.89L411.76,84.93L411.83,84.97L411.85,84.98M414.24,86.29L414.24,86.29L414.31,86.33L414.39,86.37L414.46,86.41L414.54,86.45L414.61,86.50L414.69,86.54L414.76,86.58L414.84,86.62L414.91,86.66L414.99,86.70L415.07,86.74L415.14,86.78L415.22,86.83L415.29,86.87L415.37,86.91L415.44,86.95L415.52,86.99L415.59,87.03L415.67,87.07L415.74,87.11L415.82,87.16L415.89,87.20L415.97,87.24L416.04,87.28L416.12,87.32L416.19,87.36L416.27,87.40L416.34,87.44L416.42,87.49L416.49,87.53L416.57,87.57L416.64,87.61L416.72,87.65L416.79,87.69L416.87,87.73L416.94,87.78L416.99,87.80M419.37,89.11L419.42,89.14L419.50,89.18L419.58,89.22L419.65,89.26L419.73,89.30L419.80,89.35L419.88,89.39L419.95,89.43L420.03,89.47L420.10,89.51L420.18,89.55L420.25,89.59L420.33,89.64L420.40,89.68L420.48,89.72L420.55,89.76L420.63,89.80L420.70,89.84L420.78,89.88L420.85,89.92L420.93,89.97L421.00,90.01L421.08,90.05L421.15,90.09L421.23,90.13L421.30,90.17L421.38,90.21L421.45,90.26L421.53,90.30L421.60,90.34L421.68,90.38L421.76,90.42L421.83,90.46L421.91,90.50L421.98,90.55L422.06,90.59L422.12,90.62M424.50,91.93L424.54,91.95L424.61,91.99L424.69,92.04L424.76,92.08L424.84,92.12L424.91,92.16L424.99,92.20L425.06,92.24L425.14,92.28L425.21,92.33L425.29,92.37L425.36,92.41L425.44,92.45L425.51,92.49L425.59,92.53L425.66,92.57L425.74,92.62L425.81,92.66L425.89,92.70L425.96,92.74L426.04,92.78L426.11,92.82L426.19,92.86L426.27,92.91L426.34,92.95L426.42,92.99L426.49,93.03L426.57,93.07L426.64,93.11L426.72,93.16L426.79,93.20L426.87,93.24L426.94,93.28L427.02,93.32L427.09,93.36L427.17,93.40L427.24,93.45L427.25,93.45M429.63,94.76L429.65,94.77L429.72,94.81L429.80,94.85L429.87,94.90L429.95,94.94L430.02,94.98L430.10,95.02L430.17,95.06L430.25,95.10L430.32,95.15L430.40,95.19L430.47,95.23L430.55,95.27L430.62,95.31L430.70,95.35L430.78,95.39L430.85,95.44L430.93,95.48L431.00,95.52L431.08,95.56L431.15,95.60L431.23,95.64L431.30,95.68L431.38,95.73L431.45,95.77L431.53,95.81L431.60,95.85L431.68,95.89L431.75,95.93L431.83,95.98L431.90,96.02L431.98,96.06L432.05,96.10L432.13,96.14L432.20,96.18L432.28,96.22L432.35,96.27L432.37,96.27M434.75,97.59L434.76,97.59L434.83,97.64L434.91,97.68L434.98,97.72L435.06,97.76L435.13,97.80L435.21,97.84L435.29,97.88L435.36,97.93L435.44,97.97L435.51,98.01L435.59,98.05L435.66,98.09L435.74,98.13L435.81,98.17L435.89,98.22L435.96,98.26L436.04,98.30L436.11,98.34L436.19,98.38L436.26,98.42L436.34,98.47L436.41,98.51L436.49,98.55L436.56,98.59L436.64,98.63L436.71,98.67L436.79,98.71L436.86,98.76L436.94,98.80L437.01,98.84L437.09,98.88L437.16,98.92L437.24,98.96L437.31,99.01L437.39,99.05L437.47,99.09L437.49,99.10M439.87,100.41L439.87,100.42L439.95,100.46L440.02,100.50L440.10,100.54L440.17,100.58L440.25,100.62L440.32,100.67L440.40,100.71L440.47,100.75L440.55,100.79L440.62,100.83L440.70,100.87L440.77,100.92L440.85,100.96L440.92,101.00L441.00,101.04L441.07,101.08L441.15,101.12L441.22,101.16L441.30,101.21L441.37,101.25L441.45,101.29L441.52,101.33L441.60,101.37L441.67,101.41L441.75,101.46L441.82,101.50L441.90,101.54L441.98,101.58L442.05,101.62L442.13,101.66L442.20,101.70L442.28,101.75L442.35,101.79L442.43,101.83L442.50,101.87L442.58,101.91L442.61,101.93M444.98,103.24L445.06,103.28L445.13,103.32L445.21,103.37L445.28,103.41L445.36,103.45L445.43,103.49L445.51,103.53L445.58,103.57L445.66,103.62L445.73,103.66L445.81,103.70L445.88,103.74L445.96,103.78L446.03,103.82L446.11,103.86L446.18,103.91L446.26,103.95L446.33,103.99L446.41,104.03L446.49,104.07L446.56,104.11L446.64,104.16L446.71,104.20L446.79,104.24L446.86,104.28L446.94,104.32L447.01,104.36L447.09,104.41L447.16,104.45L447.24,104.49L447.31,104.53L447.39,104.57L447.46,104.61L447.54,104.65L447.61,104.70L447.69,104.74L447.72,104.76M450.10,106.07L450.17,106.11L450.24,106.15L450.32,106.19L450.39,106.23L450.47,106.28L450.54,106.32L450.62,106.36L450.69,106.40L450.77,106.44L450.84,106.48L450.92,106.52L451.00,106.57L451.07,106.61L451.15,106.65L451.22,106.69L451.30,106.73L451.37,106.77L451.45,106.82L451.52,106.86L451.60,106.90L451.67,106.94L451.75,106.98L451.82,107.02L451.90,107.06L451.97,107.11L452.05,107.15L452.12,107.19L452.20,107.23L452.27,107.27L452.35,107.31L452.42,107.36L452.50,107.40L452.57,107.44L452.65,107.48L452.72,107.52L452.80,107.56L452.84,107.59M455.22,108.90L455.28,108.93L455.36,108.98L455.43,109.02L455.51,109.06L455.58,109.10L455.66,109.14L455.73,109.18L455.81,109.23L455.88,109.27L455.96,109.31L456.03,109.35L456.11,109.39L456.18,109.43L456.26,109.48L456.33,109.52L456.41,109.56L456.48,109.60L456.56,109.64L456.63,109.68L456.71,109.72L456.78,109.77L456.86,109.81L456.93,109.85L457.01,109.89L457.08,109.93L457.16,109.97L457.23,110.02L457.31,110.06L457.38,110.10L457.46,110.14L457.53,110.18L457.61,110.22L457.69,110.27L457.76,110.31L457.84,110.35L457.91,110.39L457.96,110.42M460.33,111.73L460.39,111.76L460.47,111.80L460.54,111.84L460.62,111.89L460.69,111.93L460.77,111.97L460.84,112.01L460.92,112.05L460.99,112.09L461.07,112.14L461.14,112.18L461.22,112.22L461.29,112.26L461.37,112.30L461.44,112.34L461.52,112.39L461.59,112.43L461.67,112.47L461.74,112.51L461.82,112.55L461.89,112.59L461.97,112.63L462.04,112.68L462.12,112.72L462.20,112.76L462.27,112.80L462.35,112.84L462.42,112.88L462.50,112.93L462.57,112.97L462.65,113.01L462.72,113.05L462.80,113.09L462.87,113.13L462.95,113.17L463.02,113.22L463.07,113.24M465.45,114.56L465.50,114.59L465.58,114.63L465.65,114.67L465.73,114.71L465.80,114.75L465.88,114.80L465.95,114.84L466.03,114.88L466.10,114.92L466.18,114.96L466.25,115.00L466.33,115.05L466.40,115.09L466.48,115.13L466.56,115.17L466.63,115.21L466.71,115.25L466.78,115.30L466.86,115.34L466.93,115.38L467.01,115.42L467.08,115.46L467.16,115.50L467.23,115.54L467.31,115.59L467.38,115.63L467.46,115.67L467.53,115.71L467.61,115.75L467.68,115.79L467.76,115.84L467.83,115.88L467.91,115.92L467.98,115.96L468.06,116.00L468.13,116.04L468.19,116.07M470.56,117.39L470.61,117.42L470.69,117.46L470.76,117.51L470.84,117.55L470.91,117.59L470.99,117.63L471.07,117.67L471.14,117.71L471.22,117.76L471.29,117.80L471.37,117.84L471.44,117.88L471.52,117.92L471.59,117.97L471.67,118.01L471.74,118.05L471.82,118.09L471.89,118.13L471.97,118.17L472.04,118.21L472.12,118.26L472.19,118.30L472.27,118.34L472.34,118.38L472.42,118.42L472.49,118.46L472.57,118.50L472.64,118.54L472.72,118.58L472.79,118.63L472.87,118.67L472.94,118.71L473.02,118.75L473.09,118.79L473.17,118.83L473.24,118.87L473.30,118.90M475.73,120.19L475.80,120.23L475.88,120.27L475.95,120.31L476.03,120.35L476.10,120.39L476.18,120.43L476.25,120.47L476.33,120.51L476.40,120.54L476.48,120.58L476.55,120.62L476.63,120.66L476.70,120.70L476.78,120.74L476.85,120.78L476.93,120.82L477.00,120.86L477.08,120.89L477.15,120.93L477.23,120.97L477.30,121.01L477.38,121.05L477.45,121.09L477.53,121.13L477.60,121.16L477.68,121.20L477.76,121.24L477.83,121.28L477.91,121.32L477.98,121.36L478.06,121.40L478.13,121.43L478.21,121.47L478.28,121.51L478.36,121.55L478.43,121.59L478.51,121.62L478.58,121.66L478.58,121.66M481.10,122.92L481.14,122.93L481.21,122.97L481.29,123.01L481.36,123.05L481.44,123.08L481.51,123.12L481.59,123.16L481.66,123.19L481.74,123.23L481.81,123.27L481.89,123.30L481.96,123.34L482.04,123.37L482.11,123.41L482.19,123.45L482.27,123.48L482.34,123.52L482.42,123.56L482.49,123.59L482.57,123.63L482.64,123.67L482.72,123.70L482.79,123.74L482.87,123.77L482.94,123.81L483.02,123.85L483.09,123.88L483.17,123.92L483.24,123.95L483.32,123.99L483.39,124.03L483.47,124.06L483.54,124.10L483.62,124.13L483.69,124.17L483.77,124.21L483.84,124.24L483.92,124.28L483.99,124.31L484.05,124.34M486.65,125.55L486.70,125.58L486.78,125.61L486.85,125.65L486.93,125.68L487.00,125.72L487.08,125.75L487.15,125.79L487.23,125.82L487.30,125.85L487.38,125.89L487.45,125.92L487.53,125.96L487.60,125.99L487.68,126.03L487.75,126.06L487.83,126.09L487.90,126.13L487.98,126.16L488.05,126.20L488.13,126.23L488.20,126.26L488.28,126.30L488.35,126.33L488.43,126.36L488.50,126.40L488.58,126.43L488.65,126.46L488.73,126.50L488.80,126.53L488.88,126.56L488.96,126.60L489.03,126.63L489.11,126.66L489.18,126.70L489.26,126.73L489.33,126.76L489.41,126.79L489.48,126.83L489.56,126.86L489.63,126.89L489.70,126.92M492.43,128.07L492.49,128.10L492.56,128.13L492.64,128.16L492.71,128.19L492.79,128.22L492.86,128.25L492.94,128.28L493.01,128.32L493.09,128.35L493.16,128.38L493.24,128.41L493.31,128.44L493.39,128.47L493.47,128.50L493.54,128.53L493.62,128.56L493.69,128.59L493.77,128.62L493.84,128.65L493.92,128.68L493.99,128.71L494.07,128.75L494.14,128.78L494.22,128.81L494.29,128.84L494.37,128.87L494.44,128.90L494.52,128.93L494.59,128.96L494.67,128.99L494.74,129.02L494.82,129.05L494.89,129.08L494.97,129.11L495.04,129.14L495.12,129.17L495.19,129.20L495.27,129.23L495.34,129.26L495.42,129.29L495.49,129.33L495.57,129.36L495.62,129.37M498.41,130.49L498.43,130.50L498.50,130.53L498.58,130.56L498.65,130.59L498.73,130.61L498.80,130.64L498.88,130.67L498.95,130.70L499.03,130.73L499.10,130.76L499.18,130.79L499.25,130.82L499.33,130.85L499.40,130.88L499.48,130.91L499.55,130.94L499.63,130.97L499.70,131.00L499.78,131.03L499.85,131.05L499.93,131.08L500.00,131.11L500.08,131.14L500.16,131.17L500.23,131.20L500.31,131.23L500.38,131.26L500.46,131.29L500.53,131.32L500.61,131.34L500.68,131.37L500.76,131.40L500.83,131.43L500.91,131.46L500.98,131.49L501.06,131.52L501.13,131.55L501.21,131.57L501.28,131.60L501.36,131.63L501.43,131.66L501.51,131.69L501.58,131.72L501.66,131.75L501.67,131.75M504.55,132.81L504.59,132.82L504.67,132.85L504.74,132.88L504.82,132.91L504.89,132.93L504.97,132.96L505.04,132.99L505.12,133.01L505.19,133.04L505.27,133.06L505.34,133.09L505.42,133.12L505.49,133.14L505.57,133.17L505.64,133.19L505.72,133.22L505.79,133.25L505.87,133.27L505.94,133.30L506.02,133.32L506.09,133.35L506.17,133.37L506.24,133.40L506.32,133.42L506.39,133.45L506.47,133.47L506.54,133.50L506.62,133.52L506.69,133.55L506.77,133.57L506.84,133.60L506.92,133.62L507.00,133.65L507.07,133.67L507.15,133.70L507.22,133.72L507.30,133.75L507.37,133.77L507.45,133.80L507.52,133.82L507.60,133.85L507.67,133.87L507.75,133.90L507.82,133.92L507.90,133.94L507.97,133.97M510.97,134.95L510.98,134.95L511.05,134.98L511.13,135.00L511.20,135.03L511.28,135.05L511.36,135.08L511.43,135.10L511.51,135.13L511.58,135.16L511.66,135.18L511.73,135.21L511.81,135.23L511.88,135.26L511.96,135.29L512.03,135.31L512.11,135.34L512.18,135.36L512.26,135.39L512.33,135.41L512.41,135.44L512.48,135.47L512.56,135.49L512.63,135.52L512.71,135.54L512.78,135.57L512.86,135.60L512.93,135.62L513.01,135.65L513.08,135.67L513.16,135.70L513.23,135.72L513.31,135.75L513.38,135.77L513.46,135.80L513.53,135.83L513.61,135.85L513.69,135.88L513.76,135.90L513.84,135.93L513.91,135.95L513.99,135.98L514.06,136.00L514.14,136.03L514.21,136.06L514.29,136.08L514.36,136.11L514.38,136.11M517.32,137.14L517.37,137.16L517.44,137.18L517.52,137.21L517.59,137.24L517.67,137.27L517.74,137.29L517.82,137.32L517.89,137.35L517.97,137.38L518.04,137.41L518.12,137.44L518.20,137.46L518.27,137.49L518.35,137.52L518.42,137.55L518.50,137.58L518.57,137.61L518.65,137.64L518.72,137.67L518.80,137.70L518.87,137.73L518.95,137.76L519.02,137.79L519.10,137.82L519.17,137.85L519.25,137.88L519.32,137.91L519.40,137.94L519.47,137.97L519.55,138.00L519.62,138.03L519.70,138.06L519.77,138.09L519.85,138.12L519.92,138.15L520.00,138.19L520.07,138.22L520.15,138.25L520.22,138.28L520.30,138.31L520.38,138.35L520.45,138.38L520.53,138.41L520.54,138.42M523.13,139.64L523.16,139.65L523.23,139.69L523.31,139.73L523.38,139.77L523.46,139.80L523.53,139.84L523.61,139.88L523.68,139.92L523.76,139.96L523.83,140.00L523.91,140.05L523.98,140.09L524.06,140.13L524.13,140.17L524.21,140.21L524.28,140.25L524.36,140.30L524.43,140.34L524.51,140.38L524.58,140.43L524.66,140.47L524.73,140.51L524.81,140.56L524.89,140.60L524.96,140.65L525.04,140.69L525.11,140.74L525.19,140.78L525.26,140.83L525.34,140.88L525.41,140.92L525.49,140.97L525.56,141.02L525.64,141.07L525.71,141.11L525.79,141.16L525.81,141.18M527.78,142.63L527.82,142.66L527.89,142.72L527.97,142.78L528.04,142.85L528.12,142.91L528.19,142.98L528.27,143.04L528.34,143.11L528.42,143.17L528.49,143.24L528.57,143.30L528.64,143.37L528.72,143.44L528.79,143.51L528.87,143.58L528.94,143.64L529.02,143.71L529.09,143.78L529.17,143.85L529.24,143.92L529.32,143.99L529.40,144.06L529.47,144.14L529.55,144.21L529.62,144.28L529.70,144.35L529.75,144.40M531.29,145.97L531.35,146.03L531.42,146.11L531.50,146.19" fill="none" stroke="#72ea84" stroke-width="1.4"/>
<path d="M49.90,220.36L49.98,220.32L50.05,220.27L50.13,220.23L50.20,220.19L50.28,220.15L50.35,220.11L50.43,220.07L50.50,220.03L50.58,219.98L50.65,219.94L50.73,219.90L50.80,219.86L50.88,219.82L50.95,219.78L51.03,219.73L51.10,219.69L51.18,219.65L51.25,219.61L51.33,219.57L51.40,219.53L51.48,219.48L51.55,219.44L51.63,219.40L51.70,219.36L51.78,219.32L51.85,219.28L51.93,219.24L52.00,219.19L52.08,219.15L52.16,219.11L52.23,219.07L52.31,219.03L52.38,218.99L52.44,218.95M53.05,218.62L53.06,218.61L53.13,218.57L53.21,218.53L53.28,218.49L53.36,218.45L53.43,218.40L53.51,218.36L53.58,218.32L53.66,218.28L53.73,218.24L53.81,218.20L53.88,218.15L53.96,218.11L54.03,218.07L54.11,218.03L54.18,217.99L54.26,217.95L54.33,217.90L54.41,217.86L54.49,217.82L54.56,217.78L54.64,217.74L54.71,217.70L54.79,217.66L54.86,217.61L54.94,217.57L55.01,217.53L55.09,217.49L55.16,217.45L55.24,217.41L55.31,217.36L55.39,217.32L55.46,217.28L55.54,217.24L55.59,217.21M56.20,216.87L56.21,216.87L56.29,216.82L56.36,216.78L56.44,216.74L56.51,216.70L56.59,216.66L56.67,216.62L56.74,216.57L56.82,216.53L56.89,216.49L56.97,216.45L57.04,216.41L57.12,216.37L57.19,216.32L57.27,216.28L57.34,216.24L57.42,216.20L57.49,216.16L57.57,216.12L57.64,216.08L57.72,216.03L57.79,215.99L57.87,215.95L57.94,215.91L58.02,215.87L58.09,215.83L58.17,215.78L58.24,215.74L58.32,215.70L58.39,215.66L58.47,215.62L58.54,215.58L58.62,215.53L58.69,215.49L58.74,215.47M59.35,215.13L59.37,215.12L59.45,215.08L59.52,215.04L59.60,214.99L59.67,214.95L59.75,214.91L59.82,214.87L59.90,214.83L59.97,214.79L60.05,214.74L60.12,214.70L60.20,214.66L60.27,214.62L60.35,214.58L60.42,214.54L60.50,214.50L60.57,214.45L60.65,214.41L60.72,214.37L60.80,214.33L60.87,214.29L60.95,214.25L61.02,214.20L61.10,214.16L61.18,214.12L61.25,214.08L61.33,214.04L61.40,214.00L61.48,213.95L61.55,213.91L61.63,213.87L61.70,213.83L61.78,213.79L61.85,213.75L61.89,213.73M62.50,213.39L62.53,213.37L62.60,213.33L62.68,213.29L62.75,213.25L62.83,213.21L62.90,213.16L62.98,213.12L63.05,213.08L63.13,213.04L63.20,213.00L63.28,212.96L63.36,212.92L63.43,212.87L63.51,212.83L63.58,212.79L63.66,212.75L63.73,212.71L63.81,212.67L63.88,212.62L63.96,212.58L64.03,212.54L64.11,212.50L64.18,212.46L64.26,212.42L64.33,212.37L64.41,212.33L64.48,212.29L64.56,212.25L64.63,212.21L64.71,212.17L64.78,212.13L64.86,212.08L64.93,212.04L65.01,212.00L65.04,211.98M65.65,211.65L65.69,211.63L65.76,211.58L65.84,211.54L65.91,211.50L65.99,211.46L66.06,211.42L66.14,211.38L66.21,211.34L66.29,211.29L66.36,211.25L66.44,211.21L66.51,211.17L66.59,211.13L66.66,211.09L66.74,211.04L66.81,211.00L66.89,210.96L66.96,210.92L67.04,210.88L67.11,210.84L67.19,210.79L67.26,210.75L67.34,210.71L67.41,210.67L67.49,210.63L67.56,210.59L67.64,210.55L67.71,210.50L67.79,210.46L67.87,210.42L67.94,210.38L68.02,210.34L68.09,210.30L68.17,210.25L68.19,210.24M68.80,209.90L68.84,209.88L68.92,209.84L68.99,209.80L69.07,209.76L69.14,209.71L69.22,209.67L69.29,209.63L69.37,209.59L69.44,209.55L69.52,209.51L69.59,209.46L69.67,209.42L69.74,209.38L69.82,209.34L69.89,209.30L69.97,209.26L70.04,209.21L70.12,209.17L70.20,209.13L70.27,209.09L70.35,209.05L70.42,209.01L70.50,208.97L70.57,208.92L70.65,208.88L70.72,208.84L70.80,208.80L70.87,208.76L70.95,208.72L71.02,208.67L71.10,208.63L71.17,208.59L71.25,208.55L71.32,208.51L71.34,208.50M71.95,208.16L72.00,208.13L72.07,208.09L72.15,208.05L72.22,208.01L72.30,207.97L72.38,207.93L72.45,207.88L72.53,207.84L72.60,207.80L72.68,207.76L72.75,207.72L72.83,207.68L72.90,207.63L72.98,207.59L73.05,207.55L73.13,207.51L73.20,207.47L73.28,207.43L73.35,207.39L73.43,207.34L73.50,207.30L73.58,207.26L73.65,207.22L73.73,207.18L73.80,207.14L73.88,207.09L73.95,207.05L74.03,207.01L74.10,206.97L74.18,206.93L74.25,206.89L74.33,206.84L74.40,206.80L74.48,206.76L74.49,206.76M75.10,206.42L75.16,206.39L75.23,206.35L75.31,206.30L75.38,206.26L75.46,206.22L75.53,206.18L75.61,206.14L75.68,206.10L75.76,206.05L75.83,206.01L75.91,205.97L75.98,205.93L76.06,205.89L76.13,205.85L76.21,205.81L76.28,205.76L76.36,205.72L76.43,205.68L76.51,205.64L76.58,205.60L76.66,205.56L76.73,205.51L76.81,205.47L76.89,205.43L76.96,205.39L77.04,205.35L77.11,205.31L77.19,205.26L77.26,205.22L77.34,205.18L77.41,205.14L77.49,205.10L77.56,205.06L77.64,205.02L77.64,205.01M78.25,204.68L78.31,204.64L78.39,204.60L78.46,204.56L78.54,204.52L78.61,204.47L78.69,204.43L78.76,204.39L78.84,204.35L78.91,204.31L78.99,204.27L79.07,204.23L79.14,204.18L79.22,204.14L79.29,204.10L79.37,204.06L79.44,204.02L79.52,203.98L79.59,203.93L79.67,203.89L79.74,203.85L79.82,203.81L79.89,203.77L79.97,203.73L80.04,203.68L80.12,203.64L80.19,203.60L80.27,203.56L80.34,203.52L80.42,203.48L80.49,203.44L80.57,203.39L80.64,203.35L80.72,203.31L80.79,203.27M81.40,202.93L81.47,202.89L81.55,202.85L81.62,202.81L81.70,202.77L81.77,202.73L81.85,202.69L81.92,202.65L82.00,202.60L82.07,202.56L82.15,202.52L82.22,202.48L82.30,202.44L82.37,202.40L82.45,202.35L82.52,202.31L82.60,202.27L82.67,202.23L82.75,202.19L82.82,202.15L82.90,202.10L82.97,202.06L83.05,202.02L83.12,201.98L83.20,201.94L83.27,201.90L83.35,201.86L83.42,201.81L83.50,201.77L83.58,201.73L83.65,201.69L83.73,201.65L83.80,201.61L83.88,201.56L83.94,201.53M84.55,201.19L84.55,201.19L84.63,201.15L84.70,201.11L84.78,201.07L84.85,201.02L84.93,200.98L85.00,200.94L85.08,200.90L85.15,200.86L85.23,200.82L85.30,200.77L85.38,200.73L85.45,200.69L85.53,200.65L85.60,200.61L85.68,200.57L85.76,200.52L85.83,200.48L85.91,200.44L85.98,200.40L86.06,200.36L86.13,200.32L86.21,200.28L86.28,200.23L86.36,200.19L86.43,200.15L86.51,200.11L86.58,200.07L86.66,200.03L86.73,199.98L86.81,199.94L86.88,199.90L86.96,199.86L87.03,199.82L87.09,199.79M87.70,199.45L87.71,199.44L87.78,199.40L87.86,199.36L87.93,199.32L88.01,199.28L88.09,199.24L88.16,199.19L88.24,199.15L88.31,199.11L88.39,199.07L88.46,199.03L88.54,198.99L88.61,198.94L88.69,198.90L88.76,198.86L88.84,198.82L88.91,198.78L88.99,198.74L89.06,198.70L89.14,198.65L89.21,198.61L89.29,198.57L89.36,198.53L89.44,198.49L89.51,198.45L89.59,198.40L89.66,198.36L89.74,198.32L89.81,198.28L89.89,198.24L89.96,198.20L90.04,198.15L90.11,198.11L90.19,198.07L90.24,198.04M90.85,197.71L90.87,197.70L90.94,197.66L91.02,197.61L91.09,197.57L91.17,197.53L91.24,197.49L91.32,197.45L91.39,197.41L91.47,197.36L91.54,197.32L91.62,197.28L91.69,197.24L91.77,197.20L91.84,197.16L91.92,197.12L91.99,197.07L92.07,197.03L92.14,196.99L92.22,196.95L92.29,196.91L92.37,196.87L92.44,196.82L92.52,196.78L92.60,196.74L92.67,196.70L92.75,196.66L92.82,196.62L92.90,196.57L92.97,196.53L93.05,196.49L93.12,196.45L93.20,196.41L93.27,196.37L93.35,196.33L93.39,196.30M94.00,195.96L94.02,195.95L94.10,195.91L94.17,195.87L94.25,195.83L94.32,195.78L94.40,195.74L94.47,195.70L94.55,195.66L94.62,195.62L94.70,195.58L94.78,195.54L94.85,195.49L94.93,195.45L95.00,195.41L95.08,195.37L95.15,195.33L95.23,195.29L95.30,195.24L95.38,195.20L95.45,195.16L95.53,195.12L95.60,195.08L95.68,195.04L95.75,194.99L95.83,194.95L95.90,194.91L95.98,194.87L96.05,194.83L96.13,194.79L96.20,194.75L96.28,194.70L96.35,194.66L96.43,194.62L96.50,194.58L96.54,194.56M97.15,194.22L97.18,194.20L97.26,194.16L97.33,194.12L97.41,194.08L97.48,194.04L97.56,194.00L97.63,193.96L97.71,193.91L97.78,193.87L97.86,193.83L97.93,193.79L98.01,193.75L98.08,193.71L98.16,193.66L98.23,193.62L98.31,193.58L98.38,193.54L98.46,193.50L98.53,193.46L98.61,193.41L98.68,193.37L98.76,193.33L98.83,193.29L98.91,193.25L98.98,193.21L99.06,193.16L99.13,193.12L99.21,193.08L99.29,193.04L99.36,193.00L99.44,192.96L99.51,192.92L99.59,192.87L99.66,192.83L99.69,192.82M100.30,192.48L100.34,192.46L100.41,192.42L100.49,192.37L100.56,192.33L100.64,192.29L100.71,192.25L100.79,192.21L100.86,192.17L100.94,192.13L101.01,192.08L101.09,192.04L101.16,192.00L101.24,191.96L101.31,191.92L101.39,191.88L101.47,191.83L101.54,191.79L101.62,191.75L101.69,191.71L101.77,191.67L101.84,191.63L101.92,191.58L101.99,191.54L102.07,191.50L102.14,191.46L102.22,191.42L102.29,191.38L102.37,191.34L102.44,191.29L102.52,191.25L102.59,191.21L102.67,191.17L102.74,191.13L102.82,191.09L102.84,191.07M103.45,190.73L103.49,190.71L103.57,190.67L103.64,190.63L103.72,190.59L103.80,190.55L103.87,190.50L103.95,190.46L104.02,190.42L104.10,190.38L104.17,190.34L104.25,190.30L104.32,190.25L104.40,190.21L104.47,190.17L104.55,190.13L104.62,190.09L104.70,190.05L104.77,190.00L104.85,189.96L104.92,189.92L105.00,189.88L105.07,189.84L105.15,189.80L105.22,189.76L105.30,189.71L105.37,189.67L105.45,189.63L105.52,189.59L105.60,189.55L105.67,189.51L105.75,189.46L105.82,189.42L105.90,189.38L105.98,189.34L105.99,189.33M106.60,188.99L106.65,188.97L106.73,188.92L106.80,188.88L106.88,188.84L106.95,188.80L107.03,188.76L107.10,188.72L107.18,188.67L107.25,188.63L107.33,188.59L107.40,188.55L107.48,188.51L107.55,188.47L107.63,188.42L107.70,188.38L107.78,188.34L107.85,188.30L107.93,188.26L108.00,188.22L108.08,188.18L108.16,188.13L108.23,188.09L108.31,188.05L108.38,188.01L108.46,187.97L108.53,187.93L108.61,187.88L108.68,187.84L108.76,187.80L108.83,187.76L108.91,187.72L108.98,187.68L109.06,187.63L109.13,187.59L109.14,187.59M109.75,187.25L109.81,187.22L109.88,187.18L109.96,187.14L110.03,187.09L110.11,187.05L110.18,187.01L110.26,186.97L110.33,186.93L110.41,186.89L110.49,186.84L110.56,186.80L110.64,186.76L110.71,186.72L110.79,186.68L110.86,186.64L110.94,186.60L111.01,186.55L111.09,186.51L111.16,186.47L111.24,186.43L111.31,186.39L111.39,186.35L111.46,186.30L111.54,186.26L111.61,186.22L111.69,186.18L111.76,186.14L111.84,186.10L111.91,186.05L111.99,186.01L112.06,185.97L112.14,185.93L112.21,185.89L112.29,185.85L112.29,185.85M112.90,185.51L112.97,185.47L113.04,185.43L113.12,185.39L113.19,185.35L113.27,185.31L113.34,185.26L113.42,185.22L113.49,185.18L113.57,185.14L113.64,185.10L113.72,185.06L113.79,185.02L113.87,184.97L113.94,184.93L114.02,184.89L114.09,184.85L114.17,184.81L114.24,184.77L114.32,184.72L114.39,184.68L114.47,184.64L114.54,184.60L114.62,184.56L114.69,184.52L114.77,184.47L114.84,184.43L114.92,184.39L115.00,184.35L115.07,184.31L115.15,184.27L115.22,184.23L115.30,184.18L115.37,184.14L115.44,184.10M116.05,183.76L116.12,183.73L116.20,183.68L116.27,183.64L116.35,183.60L116.42,183.56L116.50,183.52L116.57,183.48L116.65,183.44L116.72,183.39L116.80,183.35L116.87,183.31L116.95,183.27L117.02,183.23L117.10,183.19L117.18,183.14L117.25,183.10L117.33,183.06L117.40,183.02L117.48,182.98L117.55,182.94L117.63,182.89L117.70,182.85L117.78,182.81L117.85,182.77L117.93,182.73L118.00,182.69L118.08,182.65L118.15,182.60L118.23,182.56L118.30,182.52L118.38,182.48L118.45,182.44L118.53,182.40L118.59,182.36M119.20,182.02L119.20,182.02L119.28,181.98L119.36,181.94L119.43,181.90L119.51,181.86L119.58,181.81L119.66,181.77L119.73,181.73L119.81,181.69L119.88,181.65L119.96,181.61L120.03,181.56L120.11,181.52L120.18,181.48L120.26,181.44L120.33,181.40L120.41,181.36L120.48,181.31L120.56,181.27L120.63,181.23L120.71,181.19L120.78,181.15L120.86,181.11L120.93,181.07L121.01,181.02L121.08,180.98L121.16,180.94L121.23,180.90L121.31,180.86L121.38,180.82L121.46,180.77L121.53,180.73L121.61,180.69L121.69,180.65L121.74,180.62M122.35,180.28L122.36,180.28L122.44,180.23L122.51,180.19L122.59,180.15L122.66,180.11L122.74,180.07L122.81,180.03L122.89,179.98L122.96,179.94L123.04,179.90L123.11,179.86L123.19,179.82L123.26,179.78L123.34,179.73L123.41,179.69L123.49,179.65L123.56,179.61L123.64,179.57L123.71,179.53L123.79,179.49L123.87,179.44L123.94,179.40L124.02,179.36L124.09,179.32L124.17,179.28L124.24,179.24L124.32,179.19L124.39,179.15L124.47,179.11L124.54,179.07L124.62,179.03L124.69,178.99L124.77,178.94L124.84,178.90L124.89,178.88M125.50,178.54L125.52,178.53L125.59,178.49L125.67,178.45L125.74,178.40L125.82,178.36L125.89,178.32L125.97,178.28L126.04,178.24L126.12,178.20L126.20,178.15L126.27,178.11L126.35,178.07L126.42,178.03L126.50,177.99L126.57,177.95L126.65,177.91L126.72,177.86L126.80,177.82L126.87,177.78L126.95,177.74L127.02,177.70L127.10,177.66L127.17,177.61L127.25,177.57L127.32,177.53L127.40,177.49L127.47,177.45L127.55,177.41L127.62,177.36L127.70,177.32L127.77,177.28L127.85,177.24L127.92,177.20L128.00,177.16L128.04,177.13M128.65,176.79L128.68,176.78L128.75,176.74L128.83,176.70L128.90,176.66L128.98,176.62L129.05,176.57L129.13,176.53L129.20,176.49L129.28,176.45L129.35,176.41L129.43,176.37L129.50,176.33L129.58,176.28L129.65,176.24L129.73,176.20L129.80,176.16L129.88,176.12L129.95,176.08L130.03,176.03L130.10,175.99L130.18,175.95L130.25,175.91L130.33,175.87L130.40,175.83L130.48,175.78L130.56,175.74L130.63,175.70L130.71,175.66L130.78,175.62L130.86,175.58L130.93,175.54L131.01,175.49L131.08,175.45L131.16,175.41L131.19,175.39M131.80,175.05L131.83,175.04L131.91,174.99L131.98,174.95L132.06,174.91L132.13,174.87L132.21,174.83L132.28,174.79L132.36,174.75L132.43,174.70L132.51,174.66L132.58,174.62L132.66,174.58L132.73,174.54L132.81,174.50L132.89,174.45L132.96,174.41L133.04,174.37L133.11,174.33L133.19,174.29L133.26,174.25L133.34,174.20L133.41,174.16L133.49,174.12L133.56,174.08L133.64,174.04L133.71,174.00L133.79,173.96L133.86,173.91L133.94,173.87L134.01,173.83L134.09,173.79L134.16,173.75L134.24,173.71L134.31,173.66L134.34,173.65M134.95,173.31L134.99,173.29L135.07,173.25L135.14,173.21L135.22,173.17L135.29,173.12L135.37,173.08L135.44,173.04L135.52,173.00L135.59,172.96L135.67,172.92L135.74,172.87L135.82,172.83L135.89,172.79L135.97,172.75L136.04,172.71L136.12,172.67L136.19,172.62L136.27,172.58L136.34,172.54L136.42,172.50L136.49,172.46L136.57,172.42L136.64,172.38L136.72,172.33L136.79,172.29L136.87,172.25L136.94,172.21L137.02,172.17L137.09,172.13L137.17,172.08L137.24,172.04L137.32,172.00L137.40,171.96L137.47,171.92L137.49,171.91M138.10,171.57L138.15,171.54L138.22,171.50L138.30,171.46L138.37,171.42L138.45,171.38L138.52,171.34L138.60,171.29L138.67,171.25L138.75,171.21L138.82,171.17L138.90,171.13L138.97,171.09L139.05,171.04L139.12,171.00L139.20,170.96L139.27,170.92L139.35,170.88L139.42,170.84L139.50,170.80L139.58,170.75L139.65,170.71L139.73,170.67L139.80,170.63L139.88,170.59L139.95,170.55L140.03,170.50L140.10,170.46L140.18,170.42L140.25,170.38L140.33,170.34L140.40,170.30L140.48,170.25L140.55,170.21L140.63,170.17L140.64,170.16M141.25,169.82L141.30,169.80L141.38,169.76L141.45,169.71L141.53,169.67L141.60,169.63L141.68,169.59L141.76,169.55L141.83,169.51L141.91,169.46L141.98,169.42L142.06,169.38L142.13,169.34L142.21,169.30L142.28,169.26L142.36,169.22L142.43,169.17L142.51,169.13L142.58,169.09L142.66,169.05L142.73,169.01L142.81,168.97L142.88,168.92L142.96,168.88L143.03,168.84L143.11,168.80L143.18,168.76L143.26,168.72L143.33,168.67L143.41,168.63L143.48,168.59L143.56,168.55L143.63,168.51L143.71,168.47L143.78,168.43L143.79,168.42M144.41,168.08L144.46,168.05L144.54,168.01L144.61,167.97L144.69,167.93L144.76,167.88L144.84,167.84L144.91,167.80L144.99,167.76L145.06,167.72L145.14,167.68L145.21,167.64L145.29,167.59L145.36,167.55L145.44,167.51L145.51,167.47L145.59,167.43L145.66,167.39L145.74,167.34L145.81,167.30L145.89,167.26L145.96,167.22L146.04,167.18L146.11,167.14L146.19,167.09L146.27,167.05L146.34,167.01L146.42,166.97L146.49,166.93L146.57,166.89L146.64,166.85L146.72,166.80L146.79,166.76L146.87,166.72L146.94,166.68L146.94,166.68M147.56,166.34L147.62,166.30L147.69,166.26L147.77,166.22L147.84,166.18L147.92,166.14L147.99,166.10L148.07,166.06L148.14,166.01L148.22,165.97L148.29,165.93L148.37,165.89L148.44,165.85L148.52,165.81L148.60,165.76L148.67,165.72L148.75,165.68L148.82,165.64L148.90,165.60L148.97,165.56L149.05,165.51L149.12,165.47L149.20,165.43L149.27,165.39L149.35,165.35L149.42,165.31L149.50,165.27L149.57,165.22L149.65,165.18L149.72,165.14L149.80,165.10L149.87,165.06L149.95,165.02L150.02,164.97L150.09,164.94M150.71,164.60L150.78,164.56L150.85,164.52L150.93,164.48L151.00,164.43L151.08,164.39L151.15,164.35L151.23,164.31L151.30,164.27L151.38,164.23L151.45,164.18L151.53,164.14L151.60,164.10L151.68,164.06L151.75,164.02L151.83,163.98L151.90,163.93L151.98,163.89L152.05,163.85L152.13,163.81L152.20,163.77L152.28,163.73L152.35,163.69L152.43,163.64L152.50,163.60L152.58,163.56L152.65,163.52L152.73,163.48L152.80,163.44L152.88,163.39L152.96,163.35L153.03,163.31L153.11,163.27L153.18,163.23L153.24,163.19M153.86,162.85L153.86,162.85L153.93,162.81L154.01,162.77L154.08,162.73L154.16,162.69L154.23,162.65L154.31,162.60L154.38,162.56L154.46,162.52L154.53,162.48L154.61,162.44L154.68,162.40L154.76,162.35L154.83,162.31L154.91,162.27L154.98,162.23L155.06,162.19L155.13,162.15L155.21,162.11L155.29,162.06L155.36,162.02L155.44,161.98L155.51,161.94L155.59,161.90L155.66,161.86L155.74,161.81L155.81,161.77L155.89,161.73L155.96,161.69L156.04,161.65L156.11,161.61L156.19,161.56L156.26,161.52L156.34,161.48L156.39,161.45M157.01,161.11L157.01,161.11L157.09,161.07L157.16,161.02L157.24,160.98L157.31,160.94L157.39,160.90L157.47,160.86L157.54,160.82L157.62,160.77L157.69,160.73L157.77,160.69L157.84,160.65L157.92,160.61L157.99,160.57L158.07,160.53L158.14,160.48L158.22,160.44L158.29,160.40L158.37,160.36L158.44,160.32L158.52,160.28L158.59,160.23L158.67,160.19L158.74,160.15L158.82,160.11L158.89,160.07L158.97,160.03L159.04,159.98L159.12,159.94L159.19,159.90L159.27,159.86L159.34,159.82L159.42,159.78L159.49,159.74L159.54,159.71M160.16,159.37L160.17,159.36L160.25,159.32L160.32,159.28L160.40,159.24L160.47,159.19L160.55,159.15L160.62,159.11L160.70,159.07L160.77,159.03L160.85,158.99L160.92,158.95L161.00,158.90L161.07,158.86L161.15,158.82L161.22,158.78L161.30,158.74L161.37,158.70L161.45,158.65L161.52,158.61L161.60,158.57L161.67,158.53L161.75,158.49L161.82,158.45L161.90,158.40L161.98,158.36L162.05,158.32L162.13,158.28L162.20,158.24L162.28,158.20L162.35,158.16L162.43,158.11L162.50,158.07L162.58,158.03L162.65,157.99L162.69,157.97M163.31,157.63L163.33,157.61L163.40,157.57L163.48,157.53L163.55,157.49L163.63,157.45L163.70,157.41L163.78,157.37L163.85,157.32L163.93,157.28L164.00,157.24L164.08,157.20L164.16,157.16L164.23,157.12L164.31,157.07L164.38,157.03L164.46,156.99L164.53,156.95L164.61,156.91L164.68,156.87L164.76,156.82L164.83,156.78L164.91,156.74L164.98,156.70L165.06,156.66L165.13,156.62L165.21,156.58L165.28,156.53L165.36,156.49L165.43,156.45L165.51,156.41L165.58,156.37L165.66,156.33L165.73,156.28L165.81,156.24L165.84,156.22M166.46,155.88L166.49,155.87L166.56,155.83L166.64,155.79L166.71,155.74L166.79,155.70L166.86,155.66L166.94,155.62L167.01,155.58L167.09,155.54L167.16,155.49L167.24,155.45L167.31,155.41L167.39,155.37L167.46,155.33L167.54,155.29L167.61,155.24L167.69,155.20L167.76,155.16L167.84,155.12L167.91,155.08L167.99,155.04L168.06,154.99L168.14,154.95L168.21,154.91L168.29,154.87L168.36,154.83L168.44,154.79L168.51,154.75L168.59,154.70L168.67,154.66L168.74,154.62L168.82,154.58L168.89,154.54L168.97,154.50L168.99,154.48M169.61,154.14L169.64,154.12L169.72,154.08L169.79,154.04L169.87,154.00L169.94,153.96L170.02,153.91L170.09,153.87L170.17,153.83L170.24,153.79L170.32,153.75L170.39,153.71L170.47,153.66L170.54,153.62L170.62,153.58L170.69,153.54L170.77,153.50L170.84,153.46L170.92,153.41L171.00,153.37L171.07,153.33L171.15,153.29L171.22,153.25L171.30,153.21L171.37,153.17L171.45,153.12L171.52,153.08L171.60,153.04L171.67,153.00L171.75,152.96L171.82,152.92L171.90,152.87L171.97,152.83L172.05,152.79L172.12,152.75L172.14,152.74M172.76,152.40L172.80,152.38L172.87,152.33L172.95,152.29L173.02,152.25L173.10,152.21L173.18,152.17L173.25,152.13L173.33,152.08L173.40,152.04L173.48,152.00L173.55,151.96L173.63,151.92L173.70,151.88L173.78,151.83L173.85,151.79L173.93,151.75L174.00,151.71L174.08,151.67L174.15,151.63L174.23,151.59L174.30,151.54L174.38,151.50L174.45,151.46L174.53,151.42L174.60,151.38L174.68,151.34L174.75,151.29L174.83,151.25L174.90,151.21L174.98,151.17L175.05,151.13L175.13,151.09L175.20,151.04L175.28,151.00L175.29,151.00M175.91,150.66L175.96,150.63L176.03,150.59L176.11,150.55L176.18,150.50L176.26,150.46L176.33,150.42L176.41,150.38L176.48,150.34L176.56,150.30L176.63,150.25L176.71,150.21L176.78,150.17L176.86,150.13L176.93,150.09L177.01,150.05L177.08,150.01L177.16,149.96L177.23,149.92L177.31,149.88L177.38,149.84L177.46,149.80L177.53,149.76L177.61,149.71L177.69,149.67L177.76,149.63L177.84,149.59L177.91,149.55L177.99,149.51L178.06,149.46L178.14,149.42L178.21,149.38L178.29,149.34L178.36,149.30L178.44,149.26L178.44,149.25M179.06,148.91L179.11,148.88L179.19,148.84L179.26,148.80L179.34,148.76L179.41,148.72L179.49,148.67L179.56,148.63L179.64,148.59L179.71,148.55L179.79,148.51L179.87,148.47L179.94,148.43L180.02,148.38L180.09,148.34L180.17,148.30L180.24,148.26L180.32,148.22L180.39,148.18L180.47,148.13L180.54,148.09L180.62,148.05L180.69,148.01L180.77,147.97L180.84,147.93L180.92,147.88L180.99,147.84L181.07,147.80L181.14,147.76L181.22,147.72L181.29,147.68L181.37,147.64L181.44,147.59L181.52,147.55L181.59,147.51L181.59,147.51M182.21,147.17L182.27,147.14L182.35,147.09L182.42,147.05L182.50,147.01L182.57,146.97L182.65,146.93L182.72,146.89L182.80,146.85L182.87,146.80L182.95,146.76L183.02,146.72L183.10,146.68L183.17,146.64L183.25,146.60L183.32,146.55L183.40,146.51L183.47,146.47L183.55,146.43L183.62,146.39L183.70,146.35L183.77,146.30L183.85,146.26L183.92,146.22L184.00,146.18L184.07,146.14L184.15,146.10L184.22,146.06L184.30,146.01L184.38,145.97L184.45,145.93L184.53,145.89L184.60,145.85L184.68,145.81L184.74,145.77" fill="none" stroke="#3585cc" stroke-width="1.35"/>
<path d="M185.35,145.43 L185.95,145.10 L186.55,144.77 L187.16,144.43 L187.76,144.10 L188.36,143.77 L188.96,143.44 L189.56,143.10 L190.17,142.77 L190.77,142.44 L191.37,142.10 L191.97,141.77 L192.57,141.44 L193.18,141.10 L193.78,140.77 L194.38,140.44 L194.98,140.11 L195.58,139.77 L196.19,139.44 L196.79,139.11 L197.39,138.77 L197.99,138.44 L198.59,138.11 L199.20,137.77 L199.80,137.44 L200.40,137.11 L201.00,136.78 L201.60,136.44 L202.21,136.11 L202.81,135.78 L203.41,135.44 L204.01,135.11 L204.61,134.78 L205.22,134.44 L205.82,134.11 L206.42,133.78 L207.02,133.45 L207.62,133.11 L208.23,132.78 L208.83,132.45 L209.43,132.11 L210.03,131.78 L210.63,131.45 L211.24,131.11 L211.84,130.78 L212.44,130.45 L213.04,130.12 L213.64,129.78 L214.25,129.45 L214.85,129.12 L215.45,128.78 L216.05,128.45 L216.65,128.12 L217.26,127.78 L217.86,127.45 L218.46,127.12 L219.06,126.79 L219.66,126.45 L220.27,126.12 L220.87,125.79 L221.47,125.45 L222.07,125.12 L222.67,124.79 L223.28,124.45 L223.88,124.12 L224.48,123.79 L225.08,123.46 L225.68,123.12 L226.29,122.79 L226.89,122.46 L227.49,122.12 L228.09,121.79 L228.69,121.46 L229.30,121.12 L229.90,120.79 L230.50,120.46 L231.10,120.13 L231.70,119.79 L232.31,119.46 L232.91,119.13 L233.51,118.79 L234.11,118.46 L234.71,118.13 L235.32,117.79 L235.92,117.46 L236.52,117.13 L237.12,116.80 L237.72,116.46 L238.33,116.13 L238.93,115.80 L239.53,115.46 L240.13,115.13 L240.73,114.80 L241.34,114.46 L241.94,114.13 L242.54,113.80 L243.14,113.47 L243.74,113.13 L244.35,112.80 L244.95,112.47 L245.55,112.13 L246.15,111.80 L246.75,111.47 L247.36,111.13 L247.96,110.80 L248.56,110.47 L249.16,110.14 L249.76,109.80 L250.37,109.47 L250.97,109.14 L251.57,108.80 L252.17,108.47 L252.77,108.14 L253.38,107.81 L253.98,107.47 L254.58,107.14 L255.18,106.81 L255.78,106.47 L256.39,106.14 L256.99,105.81 L257.59,105.47 L258.19,105.14 L258.79,104.81 L259.40,104.48 L260.00,104.14 L260.60,103.81 L261.20,103.48 L261.80,103.14 L262.41,102.81 L263.01,102.48 L263.61,102.15 L264.21,101.81 L264.81,101.48 L265.42,101.15 L266.02,100.81 L266.62,100.48 L267.22,100.15 L267.82,99.82 L268.43,99.48 L269.03,99.15 L269.63,98.82 L270.23,98.48 L270.83,98.15 L271.44,97.82 L272.04,97.49 L272.64,97.15 L273.24,96.82 L273.84,96.49 L274.45,96.16 L275.05,95.82 L275.65,95.49 L276.25,95.16 L276.85,94.83 L277.46,94.49 L278.06,94.16 L278.66,93.83 L279.26,93.49 L279.86,93.16 L280.47,92.83 L281.07,92.50 L281.67,92.16 L282.27,91.83 L282.87,91.50 L283.48,91.17 L284.08,90.84 L284.68,90.50 L285.28,90.17 L285.88,89.84 L286.49,89.51 L287.09,89.17 L287.69,88.84 L288.29,88.51 L288.89,88.18 L289.50,87.85 L290.10,87.51 L290.70,87.18 L291.30,86.85 L291.90,86.52 L292.51,86.19 L293.11,85.85 L293.71,85.52 L294.31,85.19 L294.91,84.86 L295.52,84.53 L296.12,84.20 L296.72,83.86 L297.32,83.53 L297.92,83.20 L298.53,82.87 L299.13,82.54 L299.73,82.21 L300.33,81.88 L300.93,81.55 L301.54,81.22 L302.14,80.89 L302.74,80.56 L303.34,80.23 L303.94,79.90 L304.55,79.57 L305.15,79.24 L305.75,78.91 L306.35,78.58 L306.95,78.25 L307.56,77.92 L308.16,77.59 L308.76,77.26 L309.36,76.93 L309.96,76.60 L310.57,76.28 L311.17,75.95 L311.77,75.62 L312.37,75.29 L312.97,74.96 L313.58,74.64 L314.18,74.31 L314.78,73.98 L315.38,73.66 L315.98,73.33 L316.59,73.01 L317.19,72.68 L317.79,72.36 L318.39,72.03 L318.99,71.71 L319.60,71.38 L320.20,71.06 L320.80,70.74 L321.40,70.42 L322.00,70.09 L322.61,69.77 L323.21,69.45 L323.81,69.13 L324.41,68.81 L325.01,68.49 L325.62,68.17 L326.22,67.86 L326.82,67.54 L327.42,67.22 L328.02,66.91 L328.63,66.59 L329.23,66.28 L329.83,65.97 L330.43,65.65 L331.03,65.34 L331.64,65.03 L332.24,64.72 L332.84,64.41 L333.44,64.11 L334.04,63.80 L334.65,63.49 L335.25,63.19 L335.85,62.89 L336.45,62.59 L337.05,62.29 L337.66,61.99 L338.26,61.69 L338.86,61.39 L339.46,61.10 L340.06,60.81 L340.67,60.52 L341.27,60.23 L341.87,59.94 L342.47,59.65 L343.07,59.37 L343.68,59.09 L344.28,58.81 L344.88,58.53 L345.48,58.26 L346.08,57.98 L346.69,57.71 L347.29,57.44 L347.89,57.18 L348.49,56.91 L349.09,56.65 L349.70,56.39 L350.30,56.14 L350.90,55.89 L351.50,55.64 L352.10,55.39 L352.71,55.14 L353.31,54.90 L353.91,54.66 L354.51,54.43 L355.11,54.20 L355.72,53.97 L356.32,53.74 L356.92,53.52 L357.52,53.30 L358.12,53.09 L358.73,52.88 L359.33,52.67 L359.93,52.47 L360.53,52.26 L361.13,52.07 L361.74,51.87 L362.34,51.69 L362.94,51.50 L363.54,51.32 L364.14,51.14 L364.75,50.97 L365.35,50.80 L365.95,50.63 L366.55,50.47 L367.15,50.31 L367.76,50.15 L368.36,50.00 L368.96,49.85 L369.56,49.71 L370.16,49.57 L370.77,49.43" fill="none" stroke="#86b8e4" stroke-width="1.1"/>
<path d="M370.89,49.41L370.94,49.40L371.02,49.38L371.09,49.36L371.17,49.35L371.24,49.33L371.32,49.31L371.39,49.30L371.47,49.28L371.54,49.26L371.62,49.25L371.69,49.23L371.77,49.22L371.80,49.21M372.65,49.03L372.67,49.03L372.75,49.01L372.82,49.00L372.90,48.98L372.97,48.97L373.05,48.95L373.12,48.94L373.20,48.92L373.27,48.91L373.35,48.89L373.42,48.88L373.50,48.86L373.57,48.85L373.58,48.85M374.44,48.68L374.47,48.68L374.55,48.66L374.62,48.65L374.70,48.63L374.78,48.62L374.85,48.61L374.93,48.59L375.00,48.58L375.08,48.56L375.15,48.55L375.23,48.54L375.30,48.52L375.37,48.51M376.25,48.36L376.28,48.35L376.35,48.34L376.43,48.33L376.50,48.32L376.58,48.30L376.65,48.29L376.73,48.28L376.80,48.27L376.88,48.25L376.96,48.24L377.03,48.23L377.11,48.22L377.18,48.20L377.19,48.20M378.07,48.06L378.08,48.06L378.16,48.05L378.23,48.04L378.31,48.03L378.38,48.02L378.46,48.00L378.53,47.99L378.61,47.98L378.68,47.97L378.76,47.96L378.83,47.95L378.91,47.94L378.98,47.93L379.03,47.92M379.92,47.79L379.96,47.79L380.04,47.78L380.11,47.77L380.19,47.76L380.26,47.75L380.34,47.74L380.41,47.72L380.49,47.71L380.56,47.70L380.64,47.69L380.71,47.68L380.79,47.67L380.86,47.66L380.88,47.66M381.78,47.55L381.84,47.54L381.92,47.53L381.99,47.52L382.07,47.51L382.14,47.50L382.22,47.49L382.29,47.48L382.37,47.48L382.44,47.47L382.52,47.46L382.59,47.45L382.67,47.44L382.74,47.43L382.75,47.43M383.65,47.33L383.72,47.32L383.80,47.31L383.87,47.30L383.95,47.29L384.02,47.29L384.10,47.28L384.17,47.27L384.25,47.26L384.32,47.25L384.40,47.25L384.47,47.24L384.55,47.23L384.62,47.22L384.63,47.22M385.54,47.13L385.60,47.12L385.67,47.11L385.75,47.11L385.82,47.10L385.90,47.09L385.98,47.09L386.05,47.08L386.13,47.07L386.20,47.06L386.28,47.06L386.35,47.05L386.43,47.04L386.50,47.04L386.52,47.03M387.43,46.95L387.48,46.95L387.55,46.94L387.63,46.93L387.70,46.93L387.78,46.92L387.85,46.91L387.93,46.91L388.00,46.90L388.08,46.90L388.16,46.89L388.23,46.88L388.31,46.88L388.38,46.87L388.41,46.87M389.33,46.79L389.36,46.79L389.43,46.79L389.51,46.78L389.58,46.77L389.66,46.77L389.73,46.76L389.81,46.76L389.88,46.75L389.96,46.75L390.03,46.74L390.11,46.73L390.18,46.73L390.26,46.72L390.32,46.72M391.24,46.65L391.31,46.65L391.39,46.64L391.46,46.64L391.54,46.63L391.61,46.63L391.69,46.62L391.76,46.62L391.84,46.61L391.91,46.61L391.99,46.60L392.06,46.60L392.14,46.60L392.21,46.59L392.23,46.59M393.15,46.53L393.19,46.53L393.27,46.53L393.34,46.52L393.42,46.52L393.49,46.51L393.57,46.51L393.64,46.50L393.72,46.50L393.79,46.49L393.87,46.49L393.94,46.49L394.02,46.48L394.09,46.48L394.14,46.47M395.07,46.42L395.07,46.42L395.15,46.42L395.22,46.42L395.30,46.41L395.37,46.41L395.45,46.40L395.52,46.40L395.60,46.40L395.67,46.39L395.75,46.39L395.82,46.39L395.90,46.38L395.97,46.38L396.05,46.37L396.06,46.37M396.99,46.33L397.02,46.33L397.10,46.32L397.18,46.32L397.25,46.32L397.33,46.31L397.40,46.31L397.48,46.31L397.55,46.30L397.63,46.30L397.70,46.30L397.78,46.29L397.85,46.29L397.93,46.29L397.98,46.28M398.91,46.25L398.98,46.24L399.05,46.24L399.13,46.24L399.20,46.23L399.28,46.23L399.36,46.23L399.43,46.23L399.51,46.22L399.58,46.22L399.66,46.22L399.73,46.21L399.81,46.21L399.88,46.21L399.91,46.21M400.83,46.17L400.86,46.17L400.93,46.17L401.01,46.17L401.08,46.17L401.16,46.16L401.23,46.16L401.31,46.16L401.38,46.15L401.46,46.15L401.53,46.15L401.61,46.15L401.69,46.14L401.76,46.14L401.83,46.14M402.76,46.11L402.81,46.11L402.89,46.11L402.96,46.10L403.04,46.10L403.11,46.10L403.19,46.10L403.26,46.10L403.34,46.09L403.41,46.09L403.49,46.09L403.56,46.09L403.64,46.08L403.71,46.08L403.76,46.08M404.69,46.06L404.69,46.06L404.77,46.05L404.84,46.05L404.92,46.05L404.99,46.05L405.07,46.05L405.14,46.04L405.22,46.04L405.29,46.04L405.37,46.04L405.44,46.04L405.52,46.03L405.59,46.03L405.67,46.03L405.68,46.03M406.61,46.01L406.65,46.01L406.72,46.01L406.80,46.00L406.87,46.00L406.95,46.00L407.02,46.00L407.10,46.00L407.17,46.00L407.25,45.99L407.32,45.99L407.40,45.99L407.47,45.99L407.55,45.99L407.61,45.99M408.54,45.97L408.60,45.97L408.68,45.96L408.75,45.96L408.83,45.96L408.90,45.96L408.98,45.96L409.05,45.96L409.13,45.95L409.20,45.95L409.28,45.95L409.35,45.95L409.43,45.95L409.50,45.95L409.54,45.95M410.47,45.93L410.48,45.93L410.56,45.93L410.63,45.93L410.71,45.93L410.78,45.92L410.86,45.92L410.93,45.92L411.01,45.92L411.08,45.92L411.16,45.92L411.23,45.92L411.31,45.92L411.38,45.92L411.46,45.91L411.47,45.91M412.40,45.90L412.43,45.90L412.51,45.90L412.58,45.90L412.66,45.90L412.73,45.89L412.81,45.89L412.89,45.89L412.96,45.89L413.04,45.89L413.11,45.89L413.19,45.89L413.26,45.89L413.34,45.89L413.40,45.88M414.33,45.87L414.39,45.87L414.46,45.87L414.54,45.87L414.61,45.87L414.69,45.87L414.76,45.87L414.84,45.87L414.91,45.86L414.99,45.86L415.07,45.86L415.14,45.86L415.22,45.86L415.29,45.86L415.33,45.86M416.26,45.85L416.27,45.85L416.34,45.85L416.42,45.85L416.49,45.85L416.57,45.85L416.64,45.84L416.72,45.84L416.79,45.84L416.87,45.84L416.94,45.84L417.02,45.84L417.09,45.84L417.17,45.84L417.24,45.84L417.26,45.84M418.19,45.83L418.22,45.83L418.30,45.83L418.37,45.83L418.45,45.83L418.52,45.83L418.60,45.82L418.67,45.82L418.75,45.82L418.82,45.82L418.90,45.82L418.97,45.82L419.05,45.82L419.12,45.82L419.19,45.82M420.12,45.81L420.18,45.81L420.25,45.81L420.33,45.81L420.40,45.81L420.48,45.81L420.55,45.81L420.63,45.81L420.70,45.81L420.78,45.81L420.85,45.80L420.93,45.80L421.00,45.80L421.08,45.80L421.12,45.80M422.05,45.80L422.06,45.80L422.13,45.79L422.21,45.79L422.28,45.79L422.36,45.79L422.43,45.79L422.51,45.79L422.58,45.79L422.66,45.79L422.73,45.79L422.81,45.79L422.88,45.79L422.96,45.79L423.03,45.79L423.05,45.79M423.98,45.78L424.01,45.78L424.09,45.78L424.16,45.78L424.24,45.78L424.31,45.78L424.39,45.78L424.46,45.78L424.54,45.78L424.61,45.78L424.69,45.78L424.76,45.78L424.84,45.78L424.91,45.78L424.98,45.78M425.91,45.77L425.96,45.77L426.04,45.77L426.11,45.77L426.19,45.77L426.27,45.77L426.34,45.77L426.42,45.77L426.49,45.77L426.57,45.77L426.64,45.77L426.72,45.77L426.79,45.77L426.87,45.77L426.91,45.77M427.84,45.76L427.84,45.76L427.92,45.76L427.99,45.76L428.07,45.76L428.14,45.76L428.22,45.76L428.29,45.76L428.37,45.76L428.44,45.76L428.52,45.76L428.60,45.76L428.67,45.76L428.75,45.76L428.82,45.76L428.84,45.76M429.77,45.75L429.80,45.75L429.87,45.75L429.95,45.75L430.02,45.75L430.10,45.75L430.17,45.75L430.25,45.75L430.32,45.75L430.40,45.75L430.47,45.75L430.55,45.75L430.62,45.75L430.70,45.75L430.77,45.75M431.70,45.75L431.75,45.75L431.83,45.75L431.90,45.74L431.98,45.74L432.05,45.74L432.13,45.74L432.20,45.74L432.28,45.74L432.35,45.74L432.43,45.74L432.50,45.74L432.58,45.74L432.65,45.74L432.70,45.74M433.63,45.74L433.63,45.74L433.71,45.74L433.78,45.74L433.86,45.74L433.93,45.74L434.01,45.74L434.08,45.74L434.16,45.74L434.23,45.74L434.31,45.74L434.38,45.74L434.46,45.74L434.53,45.74L434.61,45.74L434.63,45.74M435.56,45.73L435.59,45.73L435.66,45.73L435.74,45.73L435.81,45.73L435.89,45.73L435.96,45.73L436.04,45.73L436.11,45.73L436.19,45.73L436.26,45.73L436.34,45.73L436.41,45.73L436.49,45.73L436.56,45.73M437.49,45.73L437.54,45.73L437.62,45.73L437.69,45.73L437.77,45.73L437.84,45.73L437.92,45.73L437.99,45.73L438.07,45.73L438.14,45.73L438.22,45.73L438.29,45.73L438.37,45.73L438.44,45.73L438.49,45.73M439.42,45.73L439.42,45.73L439.49,45.72L439.57,45.72L439.64,45.72L439.72,45.72L439.80,45.72L439.87,45.72L439.95,45.72L440.02,45.72L440.10,45.72L440.17,45.72L440.25,45.72L440.32,45.72L440.40,45.72L440.42,45.72M441.35,45.72L441.37,45.72L441.45,45.72L441.52,45.72L441.60,45.72L441.67,45.72L441.75,45.72L441.82,45.72L441.90,45.72L441.98,45.72L442.05,45.72L442.13,45.72L442.20,45.72L442.28,45.72L442.35,45.72M443.28,45.72L443.33,45.72L443.40,45.72L443.48,45.72L443.55,45.72L443.63,45.72L443.70,45.72L443.78,45.72L443.85,45.72L443.93,45.72L444.00,45.72L444.08,45.72L444.16,45.72L444.23,45.72L444.27,45.72M445.20,45.72L445.21,45.72L445.28,45.72L445.36,45.72L445.43,45.72L445.51,45.72L445.58,45.72L445.66,45.72L445.73,45.72L445.81,45.72L445.88,45.72L445.96,45.72L446.03,45.71L446.11,45.71L446.18,45.71L446.20,45.71M447.13,45.71L447.16,45.71L447.24,45.71L447.31,45.71L447.39,45.71L447.46,45.71L447.54,45.71L447.61,45.71L447.69,45.71L447.76,45.71L447.84,45.71L447.91,45.71L447.99,45.71L448.06,45.71L448.13,45.71M449.06,45.71L449.12,45.71L449.19,45.71L449.27,45.71L449.34,45.71L449.42,45.71L449.49,45.71L449.57,45.71L449.64,45.71L449.72,45.71L449.79,45.71L449.87,45.71L449.94,45.71L450.02,45.71L450.06,45.71M450.99,45.71L451.00,45.71L451.07,45.71L451.15,45.71L451.22,45.71L451.30,45.71L451.37,45.71L451.45,45.71L451.52,45.71L451.60,45.71L451.67,45.71L451.75,45.71L451.82,45.71L451.90,45.71L451.97,45.71L451.99,45.71M452.92,45.71L452.95,45.71L453.02,45.71L453.10,45.71L453.18,45.71L453.25,45.71L453.33,45.71L453.40,45.71L453.48,45.71L453.55,45.71L453.63,45.71L453.70,45.71L453.78,45.71L453.85,45.71L453.92,45.71M454.85,45.71L454.90,45.71L454.98,45.71L455.05,45.71L455.13,45.71L455.20,45.71L455.28,45.71L455.36,45.71L455.43,45.71L455.51,45.71L455.58,45.71L455.66,45.71L455.73,45.71L455.81,45.71L455.85,45.71M456.78,45.71L456.86,45.71L456.93,45.71L457.01,45.71L457.08,45.71L457.16,45.71L457.23,45.71L457.31,45.71L457.38,45.71L457.46,45.71L457.53,45.71L457.61,45.71L457.69,45.71L457.76,45.71L457.78,45.71M458.71,45.70L458.74,45.70L458.81,45.70L458.89,45.70L458.96,45.70L459.04,45.70L459.11,45.70L459.19,45.70L459.26,45.70L459.34,45.70L459.41,45.70L459.49,45.70L459.56,45.70L459.64,45.70L459.71,45.70L459.71,45.70M460.64,45.70L460.69,45.70L460.77,45.70L460.84,45.70L460.92,45.70L460.99,45.70L461.07,45.70L461.14,45.70L461.22,45.70L461.29,45.70L461.37,45.70L461.44,45.70L461.52,45.70L461.59,45.70L461.64,45.70M462.57,45.70L462.65,45.70L462.72,45.70L462.80,45.70L462.87,45.70L462.95,45.70L463.02,45.70L463.10,45.70L463.17,45.70L463.25,45.70L463.32,45.70L463.40,45.70L463.47,45.70L463.55,45.70L463.57,45.70M464.50,45.70L464.53,45.70L464.60,45.70L464.68,45.70L464.75,45.70L464.83,45.70L464.90,45.70L464.98,45.70L465.05,45.70L465.13,45.70L465.20,45.70L465.28,45.70L465.35,45.70L465.43,45.70L465.50,45.70L465.50,45.70M466.43,45.70L466.48,45.70L466.56,45.70L466.63,45.70L466.71,45.70L466.78,45.70L466.86,45.70L466.93,45.70L467.01,45.70L467.08,45.70L467.16,45.70L467.23,45.70L467.31,45.70L467.38,45.70L467.43,45.70M468.36,45.70L468.43,45.70L468.51,45.70L468.58,45.70L468.66,45.70L468.73,45.70L468.81,45.70L468.89,45.70L468.96,45.70L469.04,45.70L469.11,45.70L469.19,45.70L469.26,45.70L469.34,45.70L469.36,45.70M470.29,45.70L470.31,45.70L470.39,45.70L470.46,45.70L470.54,45.70L470.61,45.70L470.69,45.70L470.76,45.70L470.84,45.70L470.91,45.70L470.99,45.70L471.07,45.70L471.14,45.70L471.22,45.70L471.29,45.70L471.29,45.70M472.22,45.70L472.27,45.70L472.34,45.70L472.42,45.70L472.49,45.70L472.57,45.70L472.64,45.70L472.72,45.70L472.79,45.70L472.87,45.70L472.94,45.70L473.02,45.70L473.09,45.70L473.17,45.70L473.22,45.70M474.15,45.70L474.22,45.70L474.30,45.70L474.37,45.70L474.45,45.70L474.52,45.70L474.60,45.70L474.67,45.70L474.75,45.70L474.82,45.70L474.90,45.70L474.97,45.70L475.05,45.70L475.12,45.70L475.15,45.70M476.08,45.70L476.10,45.70L476.18,45.70L476.25,45.70L476.33,45.70L476.40,45.70L476.48,45.70L476.55,45.70L476.63,45.70L476.70,45.70L476.78,45.70L476.85,45.70L476.93,45.70L477.00,45.70L477.08,45.70L477.08,45.70M478.01,45.70L478.06,45.70L478.13,45.70L478.21,45.70L478.28,45.70L478.36,45.70L478.43,45.70L478.51,45.70L478.58,45.70L478.66,45.70L478.73,45.70L478.81,45.70L478.88,45.70L478.96,45.70L479.01,45.70M479.94,45.70L480.01,45.70L480.09,45.70L480.16,45.70L480.24,45.70L480.31,45.70L480.39,45.70L480.46,45.70L480.54,45.70L480.61,45.70L480.69,45.70L480.76,45.70L480.84,45.70L480.91,45.70L480.94,45.70M481.87,45.70L481.89,45.70L481.96,45.70L482.04,45.70L482.11,45.70L482.19,45.70L482.27,45.70L482.34,45.70L482.42,45.70L482.49,45.70L482.57,45.70L482.64,45.70L482.72,45.70L482.79,45.70L482.87,45.70L482.87,45.70M483.80,45.70L483.84,45.70L483.92,45.70L483.99,45.70L484.07,45.70L484.14,45.70L484.22,45.70L484.29,45.70L484.37,45.70L484.44,45.70L484.52,45.70L484.60,45.70L484.67,45.70L484.75,45.70L484.80,45.70M485.73,45.70L485.80,45.70L485.87,45.70L485.95,45.70L486.02,45.70L486.10,45.70L486.17,45.70L486.25,45.70L486.32,45.70L486.40,45.69L486.47,45.69L486.55,45.69L486.62,45.69L486.70,45.69L486.73,45.69M487.66,45.68L487.68,45.68L487.75,45.68L487.83,45.68L487.90,45.68L487.98,45.68L488.05,45.68L488.13,45.68L488.20,45.67L488.28,45.67L488.35,45.67L488.43,45.67L488.50,45.67L488.58,45.67L488.65,45.67L488.66,45.67M489.59,45.65L489.63,45.65L489.71,45.65L489.78,45.65L489.86,45.64L489.93,45.64L490.01,45.64L490.08,45.64L490.16,45.64L490.23,45.64L490.31,45.63L490.38,45.63L490.46,45.63L490.53,45.63L490.59,45.63M491.52,45.60L491.59,45.60L491.66,45.60L491.74,45.60L491.81,45.60L491.89,45.59L491.96,45.59L492.04,45.59L492.11,45.59L492.19,45.59L492.26,45.58L492.34,45.58L492.41,45.58L492.49,45.58L492.52,45.58M493.45,45.55L493.47,45.55L493.54,45.55L493.62,45.54L493.69,45.54L493.77,45.54L493.84,45.54L493.92,45.53L493.99,45.53L494.07,45.53L494.14,45.53L494.22,45.53L494.29,45.52L494.37,45.52L494.44,45.52L494.45,45.52M495.37,45.49L495.42,45.49L495.49,45.48L495.57,45.48L495.64,45.48L495.72,45.48L495.80,45.47L495.87,45.47L495.95,45.47L496.02,45.47L496.10,45.46L496.17,45.46L496.25,45.46L496.32,45.45L496.37,45.45M497.30,45.42L497.30,45.42L497.37,45.42L497.45,45.42L497.52,45.41L497.60,45.41L497.67,45.41L497.75,45.41L497.82,45.40L497.90,45.40L497.98,45.40L498.05,45.39L498.13,45.39L498.20,45.39L498.28,45.39L498.30,45.38M499.22,45.34L499.25,45.34L499.33,45.34L499.40,45.33L499.48,45.33L499.55,45.33L499.63,45.32L499.70,45.32L499.78,45.31L499.85,45.31L499.93,45.31L500.00,45.30L500.08,45.30L500.16,45.29L500.21,45.29M501.14,45.23L501.21,45.23L501.28,45.22L501.36,45.22L501.43,45.21L501.51,45.20L501.58,45.20L501.66,45.19L501.73,45.19L501.81,45.18L501.88,45.18L501.96,45.17L502.03,45.17L502.11,45.16L502.13,45.16M503.04,45.09L503.09,45.09L503.16,45.08L503.24,45.07L503.31,45.07L503.39,45.06L503.46,45.06L503.54,45.05L503.61,45.04L503.69,45.04L503.76,45.03L503.84,45.03L503.91,45.02L503.99,45.01L504.03,45.01M504.95,44.93L504.97,44.93L505.04,44.93L505.12,44.92L505.19,44.91L505.27,44.91L505.34,44.90L505.42,44.89L505.49,44.89L505.57,44.88L505.64,44.87L505.72,44.87L505.79,44.86L505.87,44.86L505.93,44.85M506.85,44.77L506.92,44.77L507.00,44.76L507.07,44.75L507.15,44.75L507.22,44.74L507.30,44.73L507.37,44.73L507.45,44.72L507.52,44.72L507.60,44.71L507.67,44.70L507.75,44.70L507.82,44.69L507.83,44.69M508.75,44.62L508.80,44.61L508.87,44.61L508.95,44.60L509.02,44.59L509.10,44.59L509.18,44.58L509.25,44.58L509.33,44.57L509.40,44.56L509.48,44.56L509.55,44.55L509.63,44.55L509.70,44.54L509.73,44.54M510.65,44.47L510.68,44.47L510.75,44.47L510.83,44.46L510.90,44.46L510.98,44.45L511.05,44.45L511.13,44.44L511.20,44.44L511.28,44.43L511.36,44.43L511.43,44.42L511.51,44.42L511.58,44.41L511.64,44.41M512.57,44.35L512.63,44.35L512.71,44.34L512.78,44.34L512.86,44.33L512.93,44.33L513.01,44.32L513.08,44.32L513.16,44.31L513.23,44.31L513.31,44.30L513.38,44.30L513.46,44.29L513.53,44.29L513.56,44.29M514.48,44.22L514.51,44.22L514.59,44.22L514.66,44.21L514.74,44.21L514.81,44.20L514.89,44.20L514.96,44.19L515.04,44.19L515.11,44.18L515.19,44.18L515.26,44.17L515.34,44.17L515.41,44.16L515.47,44.16M516.39,44.10L516.39,44.10L516.47,44.09L516.54,44.09L516.62,44.08L516.69,44.08L516.77,44.07L516.84,44.07L516.92,44.06L516.99,44.06L517.07,44.06L517.14,44.05L517.22,44.05L517.29,44.04L517.37,44.04L517.38,44.04M518.31,43.99L518.35,43.99L518.42,43.98L518.50,43.98L518.57,43.98L518.65,43.97L518.72,43.97L518.80,43.97L518.87,43.96L518.95,43.96L519.02,43.96L519.10,43.95L519.17,43.95L519.25,43.95L519.30,43.95M520.23,43.92L520.30,43.92L520.38,43.91L520.45,43.91L520.53,43.91L520.60,43.91L520.68,43.91L520.75,43.91L520.83,43.91L520.90,43.91L520.98,43.90L521.05,43.90L521.13,43.90L521.20,43.90L521.23,43.90M522.16,43.92L522.18,43.93L522.25,43.93L522.33,43.94L522.40,43.94L522.48,43.95L522.56,43.96L522.63,43.97L522.71,43.98L522.78,43.99L522.86,44.00L522.93,44.00L523.01,44.01L523.08,44.03L523.13,44.03M523.98,44.21L523.98,44.21L524.06,44.22L524.13,44.24L524.21,44.26L524.28,44.28L524.36,44.30L524.43,44.32L524.51,44.34L524.58,44.36L524.66,44.38L524.73,44.40L524.81,44.42L524.86,44.43M525.64,44.67L525.71,44.70L525.79,44.72L525.86,44.75L525.94,44.77L526.01,44.79L526.09,44.82L526.16,44.84L526.24,44.87L526.31,44.90L526.39,44.92L526.46,44.95M527.22,45.21L527.29,45.23L527.37,45.26L527.44,45.29L527.52,45.33L527.59,45.36L527.67,45.39L527.74,45.42L527.82,45.45L527.89,45.48L527.97,45.52M528.59,45.85L528.64,45.88L528.72,45.92L528.79,45.97L528.87,46.01L528.94,46.06L529.02,46.10L529.09,46.15L529.17,46.20L529.21,46.22M529.75,46.58L529.77,46.60L529.85,46.65L529.92,46.71L530.00,46.76L530.07,46.81L530.15,46.87L530.22,46.92L530.30,46.98L530.30,46.98M530.79,47.36L530.82,47.38L530.90,47.44L530.97,47.50L531.05,47.56L531.12,47.62L531.20,47.68L531.27,47.74L531.31,47.76" fill="none" stroke="#7eb3e2" stroke-width="1.6"/>
<path d="M49.60,41.60 L50.29,41.60 L50.98,41.60 L51.67,41.60 L52.36,41.60 L53.05,41.60 L53.74,41.60 L54.43,41.60 L55.12,41.60 L55.81,41.60 L56.50,41.60 L57.19,41.60 L57.87,41.60 L58.56,41.60 L59.25,41.60 L59.94,41.60 L60.63,41.60 L61.32,41.60 L62.01,41.60 L62.70,41.60 L63.39,41.60 L64.08,41.60 L64.77,41.60 L65.46,41.60 L66.15,41.60 L66.84,41.60 L67.53,41.60 L68.22,41.60 L68.91,41.60 L69.60,41.60 L70.29,41.60 L70.98,41.60 L71.67,41.60 L72.36,41.60 L73.04,41.60 L73.73,41.60 L74.42,41.60 L75.11,41.60 L75.80,41.60 L76.49,41.60 L77.18,41.60 L77.87,41.60 L78.56,41.60 L79.25,41.60 L79.94,41.60 L80.63,41.60 L81.32,41.60 L82.01,41.60 L82.70,41.60 L83.39,41.60 L84.08,41.60 L84.77,41.60 L85.46,41.60 L86.15,41.60 L86.84,41.60 L87.53,41.60 L88.22,41.60 L88.90,41.60 L89.59,41.60 L90.28,41.60 L90.97,41.60 L91.66,41.60 L92.35,41.60 L93.04,41.60 L93.73,41.60 L94.42,41.60 L95.11,41.60 L95.80,41.60 L96.49,41.60 L97.18,41.60 L97.87,41.60 L98.56,41.60 L99.25,41.60 L99.94,41.60 L100.63,41.60 L101.32,41.60 L102.01,41.60 L102.70,41.60 L103.39,41.60 L104.07,41.60 L104.76,41.60 L105.45,41.60 L106.14,41.60 L106.83,41.60 L107.52,41.60 L108.21,41.60 L108.90,41.60 L109.59,41.60 L110.28,41.60 L110.97,41.60 L111.66,41.60 L112.35,41.60 L113.04,41.60 L113.73,41.60 L114.42,41.60 L115.11,41.60 L115.80,41.60 L116.49,41.60 L117.18,41.60 L117.87,41.60 L118.56,41.60 L119.25,41.60 L119.93,41.60 L120.62,41.60 L121.31,41.60 L122.00,41.60 L122.69,41.60 L123.38,41.60 L124.07,41.60 L124.76,41.60 L125.45,41.60 L126.14,41.60 L126.83,41.60 L127.52,41.60 L128.21,41.60 L128.90,41.60 L129.59,41.60 L130.28,41.60 L130.97,41.60 L131.66,41.60 L132.35,41.60 L133.04,41.60 L133.73,41.60 L134.42,41.60 L135.11,41.60 L135.79,41.60 L136.48,41.60 L137.17,41.60 L137.86,41.60 L138.55,41.60 L139.24,41.60 L139.93,41.60 L140.62,41.60 L141.31,41.60 L142.00,41.60 L142.69,41.60 L143.38,41.60 L144.07,41.60 L144.76,41.60 L145.45,41.60 L146.14,41.60 L146.83,41.60 L147.52,41.60 L148.21,41.60 L148.90,41.60 L149.59,41.60 L150.28,41.60 L150.96,41.60 L151.65,41.60 L152.34,41.60 L153.03,41.60 L153.72,41.60 L154.41,41.60 L155.10,41.60 L155.79,41.60 L156.48,41.60 L157.17,41.60 L157.86,41.60 L158.55,41.60 L159.24,41.60 L159.93,41.60 L160.62,41.60 L161.31,41.60 L162.00,41.60 L162.69,41.60 L163.38,41.60 L164.07,41.60 L164.76,41.60 L165.45,41.60 L166.14,41.60 L166.82,41.60 L167.51,41.60 L168.20,41.60 L168.89,41.60 L169.58,41.60 L170.27,41.60 L170.96,41.60 L171.65,41.60 L172.34,41.60 L173.03,41.60 L173.72,41.60 L174.41,41.60 L175.10,41.60 L175.79,41.60 L176.48,41.60 L177.17,41.60 L177.86,41.60 L178.55,41.60 L179.24,41.60 L179.93,41.60 L180.62,41.60 L181.31,41.60 L181.99,41.60 L182.68,41.60 L183.37,41.60 L184.06,41.60 L184.75,41.60 L185.44,41.60 L186.13,41.60 L186.82,41.60 L187.51,41.60 L188.20,41.60 L188.89,41.60 L189.58,41.60 L190.27,41.60 L190.96,41.60 L191.65,41.60 L192.34,41.60 L193.03,41.60 L193.72,41.60 L194.41,41.60 L195.10,41.60 L195.79,41.60 L196.48,41.60 L197.17,41.60 L197.85,41.60 L198.54,41.60 L199.23,41.60 L199.92,41.60 L200.61,41.60 L201.30,41.60 L201.99,41.60 L202.68,41.60 L203.37,41.60 L204.06,41.60 L204.75,41.60 L205.44,41.60 L206.13,41.60 L206.82,41.60 L207.51,41.60 L208.20,41.60 L208.89,41.60 L209.58,41.60 L210.27,41.60 L210.96,41.60 L211.65,41.60 L212.34,41.60 L213.02,41.60 L213.71,41.60 L214.40,41.60 L215.09,41.60 L215.78,41.60 L216.47,41.60 L217.16,41.60 L217.85,41.60 L218.54,41.60 L219.23,41.60 L219.92,41.60 L220.61,41.60 L221.30,41.60 L221.99,41.60 L222.68,41.60 L223.37,41.60 L224.06,41.60 L224.75,41.60 L225.44,41.60 L226.13,41.60 L226.82,41.60 L227.51,41.60 L228.20,41.60 L228.88,41.60 L229.57,41.60 L230.26,41.60 L230.95,41.60 L231.64,41.60 L232.33,41.60 L233.02,41.60 L233.71,41.60 L234.40,41.60 L235.09,41.60 L235.78,41.60 L236.47,41.60 L237.16,41.60 L237.85,41.60 L238.54,41.60 L239.23,41.60 L239.92,41.60 L240.61,41.60 L241.30,41.60 L241.99,41.60 L242.68,41.60 L243.37,41.60 L244.05,41.60 L244.74,41.60 L245.43,41.60 L246.12,41.60 L246.81,41.60 L247.50,41.60 L248.19,41.60 L248.88,41.60 L249.57,41.60 L250.26,41.60 L250.95,41.60 L251.64,41.60 L252.33,41.60 L253.02,41.60 L253.71,41.60 L254.40,41.60 L255.09,41.60 L255.78,41.60 L256.47,41.60 L257.16,41.60 L257.85,41.60 L258.54,41.60 L259.23,41.60 L259.91,41.60 L260.60,41.60 L261.29,41.60 L261.98,41.60 L262.67,41.60 L263.36,41.60 L264.05,41.60 L264.74,41.61 L265.43,41.61 L266.12,41.61 L266.81,41.61 L267.50,41.61 L268.19,41.61 L268.88,41.61 L269.57,41.61 L270.26,41.61 L270.95,41.61 L271.64,41.61 L272.33,41.61 L273.02,41.61 L273.71,41.61 L274.40,41.61 L275.08,41.61 L275.77,41.61 L276.46,41.62 L277.15,41.62 L277.84,41.62 L278.53,41.62 L279.22,41.62 L279.91,41.62 L280.60,41.62 L281.29,41.62 L281.98,41.62 L282.67,41.62 L283.36,41.62 L284.05,41.62 L284.74,41.63 L285.43,41.63 L286.12,41.63 L286.81,41.63 L287.50,41.63 L288.19,41.63 L288.88,41.63 L289.57,41.63 L290.26,41.63 L290.94,41.63 L291.63,41.64 L292.32,41.64 L293.01,41.64 L293.70,41.64 L294.39,41.64 L295.08,41.64 L295.77,41.64 L296.46,41.64 L297.15,41.65 L297.84,41.65 L298.53,41.65 L299.22,41.65 L299.91,41.65 L300.60,41.65 L301.29,41.65 L301.98,41.65 L302.67,41.66 L303.36,41.66 L304.05,41.66 L304.74,41.66 L305.43,41.66 L306.12,41.67 L306.80,41.67 L307.49,41.67 L308.18,41.67 L308.87,41.68 L309.56,41.68 L310.25,41.68 L310.94,41.69 L311.63,41.69 L312.32,41.69 L313.01,41.70 L313.70,41.70 L314.39,41.70 L315.08,41.71 L315.77,41.71 L316.46,41.71 L317.15,41.72 L317.84,41.72 L318.53,41.73 L319.22,41.73 L319.91,41.73 L320.60,41.74 L321.29,41.74 L321.97,41.75 L322.66,41.75 L323.35,41.76 L324.04,41.76 L324.73,41.77 L325.42,41.77 L326.11,41.77 L326.80,41.78 L327.49,41.78 L328.18,41.79 L328.87,41.79 L329.56,41.80 L330.25,41.80 L330.94,41.81 L331.63,41.81 L332.32,41.82 L333.01,41.82 L333.70,41.83 L334.39,41.84 L335.08,41.85 L335.77,41.85 L336.46,41.86 L337.15,41.87 L337.83,41.88 L338.52,41.89 L339.21,41.90 L339.90,41.91 L340.59,41.92 L341.28,41.92 L341.97,41.93 L342.66,41.94 L343.35,41.95 L344.04,41.96 L344.73,41.97 L345.42,41.98 L346.11,41.99 L346.80,42.00 L347.49,42.01 L348.18,42.02 L348.87,42.02 L349.56,42.03 L350.25,42.04 L350.94,42.05 L351.63,42.05 L352.32,42.06 L353.00,42.07 L353.69,42.07 L354.38,42.08 L355.07,42.08 L355.76,42.09 L356.45,42.09 L357.14,42.09 L357.83,42.10 L358.52,42.10 L359.21,42.10 L359.90,42.10 L360.59,42.10 L361.28,42.10 L361.97,42.10 L362.66,42.10 L363.35,42.10 L364.04,42.10 L364.73,42.10 L365.42,42.09 L366.11,42.09 L366.80,42.09 L367.49,42.09 L368.18,42.09 L368.86,42.08 L369.55,42.08 L370.24,42.08 L370.93,42.08 L371.62,42.07 L372.31,42.07 L373.00,42.07 L373.69,42.06 L374.38,42.06 L375.07,42.06 L375.76,42.05 L376.45,42.05 L377.14,42.05 L377.83,42.04 L378.52,42.04 L379.21,42.03 L379.90,42.03 L380.59,42.03 L381.28,42.02 L381.97,42.02 L382.66,42.01 L383.35,42.01 L384.03,42.00 L384.72,42.00 L385.41,42.00 L386.10,41.99 L386.79,41.99 L387.48,41.98 L388.17,41.98 L388.86,41.97 L389.55,41.97 L390.24,41.96 L390.93,41.96 L391.62,41.95 L392.31,41.95 L393.00,41.94 L393.69,41.94 L394.38,41.94 L395.07,41.93 L395.76,41.93 L396.45,41.92 L397.14,41.92 L397.83,41.91 L398.52,41.91 L399.21,41.90 L399.89,41.90 L400.58,41.90 L401.27,41.89 L401.96,41.89 L402.65,41.88 L403.34,41.88 L404.03,41.88 L404.72,41.87 L405.41,41.87 L406.10,41.86 L406.79,41.86 L407.48,41.86 L408.17,41.85 L408.86,41.85 L409.55,41.84 L410.24,41.84 L410.93,41.84 L411.62,41.83 L412.31,41.83 L413.00,41.82 L413.69,41.82 L414.38,41.82 L415.06,41.81 L415.75,41.81 L416.44,41.80 L417.13,41.80 L417.82,41.79 L418.51,41.79 L419.20,41.78 L419.89,41.78 L420.58,41.78 L421.27,41.77 L421.96,41.77 L422.65,41.76 L423.34,41.76 L424.03,41.75 L424.72,41.75 L425.41,41.74 L426.10,41.74 L426.79,41.73 L427.48,41.72 L428.17,41.72 L428.86,41.71 L429.55,41.71 L430.24,41.70 L430.92,41.69 L431.61,41.69 L432.30,41.68 L432.99,41.68 L433.68,41.67 L434.37,41.66 L435.06,41.65 L435.75,41.65 L436.44,41.64 L437.13,41.63 L437.82,41.63 L438.51,41.62 L439.20,41.61 L439.89,41.60 L440.58,41.59 L441.27,41.58 L441.96,41.57 L442.65,41.56 L443.34,41.55 L444.03,41.54 L444.72,41.53 L445.41,41.51 L446.09,41.50 L446.78,41.48 L447.47,41.47 L448.16,41.45 L448.85,41.44 L449.54,41.42 L450.23,41.40 L450.92,41.39 L451.61,41.37 L452.30,41.35 L452.99,41.33 L453.68,41.31 L454.37,41.30 L455.06,41.28 L455.75,41.26 L456.44,41.24 L457.13,41.22 L457.82,41.20 L458.51,41.19 L459.20,41.17 L459.89,41.15 L460.58,41.13 L461.27,41.11 L461.95,41.10 L462.64,41.08 L463.33,41.06 L464.02,41.04 L464.71,41.02 L465.40,41.00 L466.09,40.97 L466.78,40.95 L467.47,40.93 L468.16,40.91 L468.85,40.89 L469.54,40.87 L470.23,40.85 L470.92,40.84 L471.61,40.82 L472.30,40.81 L472.99,40.80 L473.68,40.78 L474.37,40.77 L475.06,40.76 L475.75,40.75 L476.44,40.74 L477.13,40.73 L477.81,40.72 L478.50,40.72 L479.19,40.71 L479.88,40.70 L480.57,40.70 L481.26,40.70 L481.95,40.71 L482.64,40.74 L483.33,40.78 L484.02,40.84 L484.71,40.92 L485.40,41.00 L486.09,41.09 L486.78,41.18 L487.47,41.29" fill="none" stroke="#DD6430" stroke-width="1.35"/>
<path d="M487.47,41.29 L488.16,41.43 L488.85,41.59 L489.54,41.77 L490.23,41.96 L490.92,42.18 L491.61,42.41 L492.30,42.67 L492.98,42.94 L493.67,43.22 L494.36,43.51 L495.05,43.80 L495.74,44.09 L496.43,44.38 L497.12,44.68 L497.81,44.98 L498.50,45.30 L499.19,45.62 L499.88,45.94 L500.57,46.28 L501.26,46.63 L501.95,46.98 L502.64,47.35 L503.33,47.71 L504.02,48.08 L504.71,48.45 L505.40,48.81 L506.09,49.17 L506.78,49.52 L507.47,49.88 L508.16,50.24 L508.84,50.59 L509.53,50.96 L510.22,51.33 L510.91,51.70 L511.60,52.09 L512.29,52.48 L512.98,52.87 L513.67,53.27 L514.36,53.67 L515.05,54.08 L515.74,54.50 L516.43,54.93 L517.12,55.37 L517.81,55.82 L518.50,56.29 L519.19,56.78 L519.88,57.28 L520.57,57.79 L521.26,58.33 L521.95,58.88 L522.64,59.45 L523.33,60.05 L524.01,60.67 L524.70,61.31 L525.39,61.99 L526.08,62.70 L526.77,63.44 L527.46,64.22 L528.15,65.03 L528.84,65.87 L529.53,66.74 L530.22,67.63 L530.91,68.55 L531.60,69.50" fill="none" stroke="#DD6430" stroke-width="1.7"/>
<g stroke="#cbcbcb" fill="none">
<line x1="50" y1="11.3" x2="50" y2="245.5" stroke-width="2"/>
</g>
<g stroke="#a2a2a2" fill="none" stroke-width="1">
<line x1="49" y1="245.45" x2="532" y2="245.45"/>
<path d="M50,11.90H55M50,45.20H55M50,78.50H55M50,111.80H55M50,145.10H55M50,178.40H55M50,211.70H55M50,245.00H55M68.02,245V242.7M78.62,245V242.7M86.14,245V242.7M91.98,245V242.7M96.74,245V242.7M100.77,245V242.7M104.27,245V242.7M107.35,245V242.7M128.22,245V242.7M138.82,245V242.7M146.34,245V242.7M152.18,245V242.7M156.94,245V242.7M160.97,245V242.7M164.47,245V242.7M167.55,245V242.7M188.42,245V242.7M199.02,245V242.7M206.54,245V242.7M212.38,245V242.7M217.14,245V242.7M221.17,245V242.7M224.67,245V242.7M227.75,245V242.7M248.62,245V242.7M259.22,245V242.7M266.74,245V242.7M272.58,245V242.7M277.34,245V242.7M281.37,245V242.7M284.87,245V242.7M287.95,245V242.7M308.82,245V242.7M319.42,245V242.7M326.94,245V242.7M332.78,245V242.7M337.54,245V242.7M341.57,245V242.7M345.07,245V242.7M348.15,245V242.7M369.02,245V242.7M379.62,245V242.7M387.14,245V242.7M392.98,245V242.7M397.74,245V242.7M401.77,245V242.7M405.27,245V242.7M408.35,245V242.7M429.22,245V242.7M439.82,245V242.7M447.34,245V242.7M453.18,245V242.7M457.94,245V242.7M461.97,245V242.7M465.47,245V242.7M468.55,245V242.7M489.42,245V242.7M500.02,245V242.7M507.54,245V242.7M513.38,245V242.7M518.14,245V242.7M522.17,245V242.7M525.67,245V242.7M528.75,245V242.7"/>
<path d="M49.90,245V240.5M110.10,245V240.5M170.30,245V240.5M230.50,245V240.5M290.70,245V240.5M350.90,245V240.5M411.10,245V240.5M471.30,245V240.5M531.50,245V240.5" stroke-width="1.2"/>
</g>
<g font-family="Liberation Sans, Arial, sans-serif" font-size="10.5" fill="#262626" stroke="#262626" stroke-width="0.12" text-anchor="end">
<text x="46" y="16.40">-20</text>
<text x="46" y="49.70">-40</text>
<text x="46" y="83.00">-60</text>
<text x="46" y="116.30">-80</text>
<text x="46" y="149.60">-100</text>
<text x="46" y="182.90">-120</text>
<text x="46" y="216.20">-140</text>
<text x="46" y="249.50">-160</text>
</g>
<g font-family="Liberation Sans, Arial, sans-serif" fill="#262626">
<text x="49.30" y="263" font-size="11" text-anchor="middle">10<tspan font-size="8.4" dy="-5.5">0</tspan></text>
<text x="109.50" y="263" font-size="11" text-anchor="middle">10<tspan font-size="8.4" dy="-5.5">1</tspan></text>
<text x="169.70" y="263" font-size="11" text-anchor="middle">10<tspan font-size="8.4" dy="-5.5">2</tspan></text>
<text x="229.90" y="263" font-size="11" text-anchor="middle">10<tspan font-size="8.4" dy="-5.5">3</tspan></text>
<text x="290.10" y="263" font-size="11" text-anchor="middle">10<tspan font-size="8.4" dy="-5.5">4</tspan></text>
<text x="350.30" y="263" font-size="11" text-anchor="middle">10<tspan font-size="8.4" dy="-5.5">5</tspan></text>
<text x="410.50" y="263" font-size="11" text-anchor="middle">10<tspan font-size="8.4" dy="-5.5">6</tspan></text>
<text x="470.70" y="263" font-size="11" text-anchor="middle">10<tspan font-size="8.4" dy="-5.5">7</tspan></text>
<text x="530.90" y="263" font-size="11" text-anchor="middle">10<tspan font-size="8.4" dy="-5.5">8</tspan></text>
</g>
<text x="290.6" y="278" font-family="Liberation Sans, Arial, sans-serif" font-size="12.3" fill="#262626" text-anchor="middle">Frequency f (Hz)</text>
<text transform="translate(20.8,128.6) rotate(-90)" font-family="Liberation Sans, Arial, sans-serif" font-size="12.1" fill="#262626" text-anchor="middle">20*log10(|A|) (dB)</text>
<path d="M115,197.4H132.2" stroke="#3585cc" stroke-width="1.2" stroke-dasharray="1 1" fill="none"/>
<path d="M115,211.8H132.2" stroke="#E2743E" stroke-width="1.8" fill="none"/>
<path d="M115,226.2H132.2" stroke="#11f011" stroke-width="1.5" stroke-dasharray="4.2 3.6" fill="none"/>
<g font-family="Liberation Sans, Arial, sans-serif" font-size="10.66" fill="#000" stroke="#000" stroke-width="0.2">
<text x="133" y="202.4">Amplitude-frequency response of Rogowski coil current sensor</text>
<text x="133" y="216.8">Amplitude-frequency response of non-contact composite broadband current sensor</text>
<text x="133" y="231.2">Amplitude-frequency response of TMR current sensor</text>
</g>
</svg>
</body></html>
